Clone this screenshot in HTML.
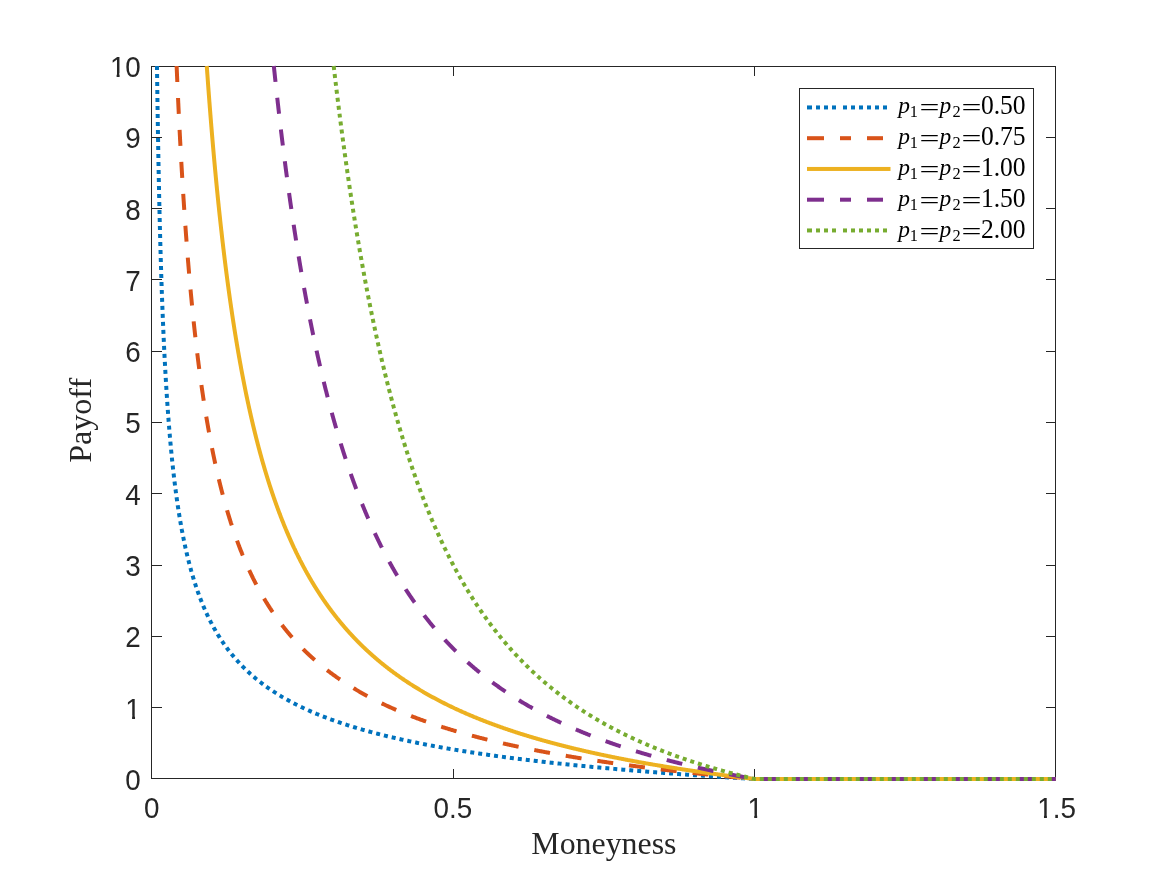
<!DOCTYPE html>
<html><head><meta charset="utf-8"><title>Payoff vs Moneyness</title>
<style>html,body{margin:0;padding:0;background:#fff;width:1167px;height:875px;overflow:hidden}svg{display:block}</style>
</head><body><svg width="1167" height="875" viewBox="0 0 1167 875"><defs><clipPath id="c0" clipPathUnits="userSpaceOnUse"><rect x="-100" y="-100" width="200" height="96.423"/><rect x="-8.720" y="-100" width="2.957" height="200"/><rect x="-0.357" y="-100" width="100" height="200"/><rect x="-100" y="-100" width="85.657" height="200"/></clipPath><clipPath id="c1" clipPathUnits="userSpaceOnUse"><rect x="-100" y="-100" width="200" height="96.423"/><rect x="-24.181" y="-100" width="2.957" height="200"/><rect x="-15.818" y="-100" width="100" height="200"/><rect x="-100" y="-100" width="70.196" height="200"/></clipPath><clipPath id="c2" clipPathUnits="userSpaceOnUse"><rect x="-100" y="-100" width="200" height="96.423"/><rect x="-0.990" y="-100" width="2.957" height="200"/><rect x="7.373" y="-100" width="100" height="200"/><rect x="-100" y="-100" width="93.387" height="200"/></clipPath><clipPath id="c3" clipPathUnits="userSpaceOnUse"><rect x="-100" y="-100" width="200" height="96.423"/><rect x="-12.582" y="-100" width="2.957" height="200"/><rect x="-4.219" y="-100" width="100" height="200"/><rect x="-100" y="-100" width="81.795" height="200"/></clipPath></defs><rect width="1167" height="875" fill="#fff"/><rect x="151" y="66" width="905" height="1" fill="#262626"/><rect x="151" y="778" width="905" height="1" fill="#262626"/><rect x="151" y="66" width="1" height="713" fill="#262626"/><rect x="1055" y="66" width="1" height="713" fill="#262626"/><rect x="453" y="769" width="1" height="9" fill="#262626"/><rect x="453" y="67" width="1" height="9" fill="#262626"/><rect x="754" y="769" width="1" height="9" fill="#262626"/><rect x="754" y="67" width="1" height="9" fill="#262626"/><rect x="152" y="707" width="10" height="1" fill="#262626"/><rect x="1046" y="707" width="9" height="1" fill="#262626"/><rect x="152" y="636" width="10" height="1" fill="#262626"/><rect x="1046" y="636" width="9" height="1" fill="#262626"/><rect x="152" y="565" width="10" height="1" fill="#262626"/><rect x="1046" y="565" width="9" height="1" fill="#262626"/><rect x="152" y="493" width="10" height="1" fill="#262626"/><rect x="1046" y="493" width="9" height="1" fill="#262626"/><rect x="152" y="422" width="10" height="1" fill="#262626"/><rect x="1046" y="422" width="9" height="1" fill="#262626"/><rect x="152" y="351" width="10" height="1" fill="#262626"/><rect x="1046" y="351" width="9" height="1" fill="#262626"/><rect x="152" y="279" width="10" height="1" fill="#262626"/><rect x="1046" y="279" width="9" height="1" fill="#262626"/><rect x="152" y="208" width="10" height="1" fill="#262626"/><rect x="1046" y="208" width="9" height="1" fill="#262626"/><rect x="152" y="137" width="10" height="1" fill="#262626"/><rect x="1046" y="137" width="9" height="1" fill="#262626"/><path d="M156.98,66.00 L157.00,67.25 L157.01,68.51 L157.03,69.75 L157.04,71.00 L157.06,72.25 L157.08,73.49 L157.09,74.73 L157.11,75.97 L157.13,77.21 L157.14,78.45 L157.16,79.68 L157.18,80.91 L157.19,82.14 L157.21,83.37 L157.22,84.60 L157.24,85.82 L157.26,87.04 L157.28,88.26 L157.29,89.48 L157.31,90.70 L157.33,91.91 L157.34,93.12 L157.36,94.33 L157.38,95.54 L157.39,96.75 L157.41,97.95 L157.43,99.15 L157.45,100.35 L157.46,101.55 L157.48,102.75 L157.50,103.94 L157.52,105.14 L157.53,106.33 L157.55,107.52 L157.57,108.70 L157.59,109.89 L157.61,111.07 L157.62,112.26 L157.64,113.43 L157.66,114.61 L157.68,115.79 L157.70,116.96 L157.71,118.13 L157.73,119.31 L157.75,120.47 L157.77,121.64 L157.79,122.80 L157.81,123.97 L157.83,125.13 L157.84,126.29 L157.86,127.44 L157.88,128.60 L157.90,129.75 L157.92,130.91 L157.94,132.06 L157.96,133.20 L157.98,134.35 L158.00,135.49 L158.01,136.64 L158.03,137.78 L158.05,138.92 L158.07,140.05 L158.09,141.19 L158.11,142.32 L158.13,143.45 L158.15,144.58 L158.17,145.71 L158.19,146.84 L158.21,147.96 L158.23,149.08 L158.25,150.21 L158.27,151.32 L158.29,152.44 L158.31,153.56 L158.33,154.67 L158.35,155.78 L158.37,156.89 L158.39,158.00 L158.41,159.11 L158.43,160.21 L158.45,161.32 L158.47,162.42 L158.49,163.52 L158.52,164.61 L158.54,165.71 L158.56,166.80 L158.58,167.90 L158.60,168.99 L158.62,170.08 L158.64,171.16 L158.66,172.25 L158.68,173.33 L158.71,174.42 L158.73,175.50 L158.75,176.57 L158.77,177.65 L158.79,178.73 L158.81,179.80 L158.84,180.87 L158.86,181.94 L158.88,183.01 L158.90,184.08 L158.92,185.14 L158.95,186.20 L158.97,187.27 L158.99,188.33 L159.01,189.38 L159.04,190.44 L159.06,191.49 L159.08,192.55 L159.10,193.60 L159.13,194.65 L159.15,195.70 L159.17,196.74 L159.19,197.79 L159.22,198.83 L159.24,199.87 L159.26,200.91 L159.29,201.95 L159.31,202.99 L159.33,204.02 L159.36,205.05 L159.38,206.08 L159.41,207.11 L159.43,208.14 L159.45,209.17 L159.48,210.19 L159.50,211.22 L159.52,212.24 L159.55,213.26 L159.57,214.28 L159.60,215.29 L159.62,216.31 L159.65,217.32 L159.67,218.33 L159.70,219.34 L159.72,220.35 L159.74,221.36 L159.77,222.36 L159.79,223.37 L159.82,224.37 L159.84,225.37 L159.87,226.37 L159.89,227.37 L159.92,228.36 L159.95,229.36 L159.97,230.35 L160.00,231.34 L160.02,232.33 L160.05,233.32 L160.07,234.30 L160.10,235.29 L160.13,236.27 L160.15,237.25 L160.18,238.23 L160.20,239.21 L160.23,240.19 L160.26,241.16 L160.28,242.14 L160.31,243.11 L160.34,244.08 L160.36,245.05 L160.39,246.01 L160.42,246.98 L160.44,247.94 L160.47,248.91 L160.50,249.87 L160.52,250.83 L160.55,251.79 L160.58,252.74 L160.61,253.70 L160.63,254.65 L160.66,255.60 L160.69,256.55 L160.72,257.50 L160.75,258.45 L160.77,259.40 L160.80,260.34 L160.83,261.28 L160.86,262.23 L160.89,263.17 L160.92,264.10 L160.94,265.04 L160.97,265.98 L161.00,266.91 L161.03,267.84 L161.06,268.77 L161.09,269.70 L161.12,270.63 L161.15,271.56 L161.18,272.48 L161.20,273.41 L161.23,274.33 L161.26,275.25 L161.29,276.17 L161.32,277.09 L161.35,278.00 L161.38,278.92 L161.41,279.83 L161.44,280.74 L161.47,281.65 L161.50,282.56 L161.53,283.47 L161.57,284.38 L161.60,285.28 L161.63,286.18 L161.66,287.09 L161.69,287.99 L161.72,288.88 L161.75,289.78 L161.78,290.68 L161.81,291.57 L161.84,292.46 L161.88,293.36 L161.91,294.25 L161.94,295.14 L161.97,296.02 L162.00,296.91 L162.04,297.79 L162.07,298.68 L162.10,299.56 L162.13,300.44 L162.16,301.32 L162.20,302.19 L162.23,303.07 L162.26,303.95 L162.30,304.82 L162.33,305.69 L162.36,306.56 L162.39,307.43 L162.43,308.30 L162.46,309.16 L162.50,310.03 L162.53,310.89 L162.56,311.76 L162.60,312.62 L162.63,313.48 L162.66,314.33 L162.70,315.19 L162.73,316.05 L162.77,316.90 L162.80,317.75 L162.84,318.60 L162.87,319.45 L162.91,320.30 L162.94,321.15 L162.98,321.99 L163.01,322.84 L163.05,323.68 L163.08,324.52 L163.12,325.36 L163.15,326.20 L163.19,327.04 L163.22,327.88 L163.26,328.71 L163.30,329.55 L163.33,330.38 L163.37,331.21 L163.41,332.04 L163.44,332.87 L163.48,333.69 L163.52,334.52 L163.55,335.34 L163.59,336.17 L163.63,336.99 L163.66,337.81 L163.70,338.63 L163.74,339.45 L163.78,340.26 L163.81,341.08 L163.85,341.89 L163.89,342.71 L163.93,343.52 L163.97,344.33 L164.00,345.14 L164.04,345.94 L164.08,346.75 L164.12,347.55 L164.16,348.36 L164.20,349.16 L164.24,349.96 L164.28,350.76 L164.32,351.56 L164.36,352.36 L164.39,353.15 L164.43,353.95 L164.47,354.74 L164.51,355.53 L164.55,356.32 L164.59,357.11 L164.63,357.90 L164.68,358.69 L164.72,359.47 L164.76,360.26 L164.80,361.04 L164.84,361.82 L164.88,362.60 L164.92,363.38 L164.96,364.16 L165.00,364.94 L165.05,365.71 L165.09,366.49 L165.13,367.26 L165.17,368.03 L165.21,368.81 L165.26,369.58 L165.30,370.34 L165.34,371.11 L165.38,371.88 L165.43,372.64 L165.47,373.41 L165.51,374.17 L165.56,374.93 L165.60,375.69 L165.64,376.45 L165.69,377.20 L165.73,377.96 L165.77,378.72 L165.82,379.47 L165.86,380.22 L165.91,380.97 L165.95,381.72 L166.00,382.47 L166.04,383.22 L166.09,383.97 L166.13,384.71 L166.18,385.46 L166.22,386.20 L166.27,386.94 L166.31,387.68 L166.36,388.42 L166.41,389.16 L166.45,389.90 L166.50,390.63 L166.54,391.37 L166.59,392.10 L166.64,392.83 L166.69,393.56 L166.73,394.29 L166.78,395.02 L166.83,395.75 L166.87,396.48 L166.92,397.20 L166.97,397.93 L167.02,398.65 L167.07,399.37 L167.11,400.09 L167.16,400.81 L167.21,401.53 L167.26,402.25 L167.31,402.96 L167.36,403.68 L167.41,404.39 L167.46,405.11 L167.51,405.82 L167.56,406.53 L167.61,407.24 L167.66,407.95 L167.71,408.65 L167.76,409.36 L167.81,410.06 L167.86,410.77 L167.91,411.47 L167.96,412.17 L168.01,412.87 L168.06,413.57 L168.11,414.27 L168.16,414.97 L168.22,415.66 L168.27,416.36 L168.32,417.05 L168.37,417.74 L168.43,418.43 L168.48,419.12 L168.53,419.81 L168.58,420.50 L168.64,421.19 L168.69,421.87 L168.74,422.56 L168.80,423.24 L168.85,423.92 L168.90,424.61 L168.96,425.29 L169.01,425.97 L169.07,426.64 L169.12,427.32 L169.18,428.00 L169.23,428.67 L169.29,429.35 L169.34,430.02 L169.40,430.69 L169.45,431.36 L169.51,432.03 L169.57,432.70 L169.62,433.37 L169.68,434.03 L169.74,434.70 L169.79,435.36 L169.85,436.03 L169.91,436.69 L169.96,437.35 L170.02,438.01 L170.08,438.67 L170.14,439.33 L170.20,439.98 L170.25,440.64 L170.31,441.29 L170.37,441.95 L170.43,442.60 L170.49,443.25 L170.55,443.90 L170.61,444.55 L170.67,445.20 L170.73,445.85 L170.79,446.50 L170.85,447.14 L170.91,447.79 L170.97,448.43 L171.03,449.07 L171.09,449.71 L171.15,450.35 L171.21,450.99 L171.27,451.63 L171.34,452.27 L171.40,452.90 L171.46,453.54 L171.52,454.17 L171.59,454.81 L171.65,455.44 L171.71,456.07 L171.77,456.70 L171.84,457.33 L171.90,457.96 L171.96,458.58 L172.03,459.21 L172.09,459.83 L172.16,460.46 L172.22,461.08 L172.29,461.70 L172.35,462.33 L172.42,462.95 L172.48,463.56 L172.55,464.18 L172.61,464.80 L172.68,465.42 L172.75,466.03 L172.81,466.65 L172.88,467.26 L172.95,467.87 L173.01,468.48 L173.08,469.09 L173.15,469.70 L173.22,470.31 L173.28,470.92 L173.35,471.52 L173.42,472.13 L173.49,472.73 L173.56,473.34 L173.63,473.94 L173.70,474.54 L173.77,475.14 L173.84,475.74 L173.91,476.34 L173.98,476.94 L174.05,477.54 L174.12,478.13 L174.19,478.73 L174.26,479.32 L174.33,479.91 L174.40,480.50 L174.47,481.10 L174.55,481.69 L174.62,482.28 L174.69,482.86 L174.76,483.45 L174.84,484.04 L174.91,484.62 L174.98,485.21 L175.06,485.79 L175.13,486.37 L175.20,486.95 L175.28,487.54 L175.35,488.12 L175.43,488.69 L175.50,489.27 L175.58,489.85 L175.65,490.43 L175.73,491.00 L175.81,491.57 L175.88,492.15 L175.96,492.72 L176.04,493.29 L176.11,493.86 L176.19,494.43 L176.27,495.00 L176.35,495.57 L176.42,496.14 L176.50,496.70 L176.58,497.27 L176.66,497.83 L176.74,498.40 L176.82,498.96 L176.90,499.52 L176.98,500.08 L177.06,500.64 L177.14,501.20 L177.22,501.76 L177.30,502.31 L177.38,502.87 L177.46,503.43 L177.54,503.98 L177.62,504.53 L177.71,505.09 L177.79,505.64 L177.87,506.19 L177.95,506.74 L178.04,507.29 L178.12,507.84 L178.20,508.38 L178.29,508.93 L178.37,509.48 L178.46,510.02 L178.54,510.56 L178.63,511.11 L178.71,511.65 L178.80,512.19 L178.88,512.73 L178.97,513.27 L179.06,513.81 L179.14,514.35 L179.23,514.88 L179.32,515.42 L179.40,515.96 L179.49,516.49 L179.58,517.02 L179.67,517.56 L179.76,518.09 L179.85,518.62 L179.94,519.15 L180.03,519.68 L180.11,520.21 L180.20,520.73 L180.30,521.26 L180.39,521.79 L180.48,522.31 L180.57,522.84 L180.66,523.36 L180.75,523.88 L180.84,524.40 L180.94,524.93 L181.03,525.45 L181.12,525.96 L181.22,526.48 L181.31,527.00 L181.40,527.52 L181.50,528.03 L181.59,528.55 L181.69,529.06 L181.78,529.58 L181.88,530.09 L181.97,530.60 L182.07,531.11 L182.17,531.62 L182.26,532.13 L182.36,532.64 L182.46,533.15 L182.55,533.65 L182.65,534.16 L182.75,534.67 L182.85,535.17 L182.95,535.67 L183.05,536.18 L183.15,536.68 L183.25,537.18 L183.35,537.68 L183.45,538.18 L183.55,538.68 L183.65,539.18 L183.75,539.67 L183.85,540.17 L183.95,540.67 L184.06,541.16 L184.16,541.66 L184.26,542.15 L184.36,542.64 L184.47,543.13 L184.57,543.62 L184.68,544.11 L184.78,544.60 L184.89,545.09 L184.99,545.58 L185.10,546.07 L185.20,546.55 L185.31,547.04 L185.42,547.52 L185.52,548.01 L185.63,548.49 L185.74,548.97 L185.85,549.46 L185.96,549.94 L186.06,550.42 L186.17,550.90 L186.28,551.37 L186.39,551.85 L186.50,552.33 L186.61,552.81 L186.72,553.28 L186.84,553.76 L186.95,554.23 L187.06,554.70 L187.17,555.18 L187.28,555.65 L187.40,556.12 L187.51,556.59 L187.63,557.06 L187.74,557.53 L187.85,557.99 L187.97,558.46 L188.08,558.93 L188.20,559.39 L188.32,559.86 L188.43,560.32 L188.55,560.79 L188.67,561.25 L188.78,561.71 L188.90,562.17 L189.02,562.63 L189.14,563.09 L189.26,563.55 L189.38,564.01 L189.50,564.47 L189.62,564.92 L189.74,565.38 L189.86,565.84 L189.98,566.29 L190.10,566.75 L190.22,567.20 L190.35,567.65 L190.47,568.10 L190.59,568.55 L190.72,569.00 L190.84,569.45 L190.96,569.90 L191.09,570.35 L191.21,570.80 L191.34,571.24 L191.47,571.69 L191.59,572.14 L191.72,572.58 L191.85,573.02 L191.97,573.47 L192.10,573.91 L192.23,574.35 L192.36,574.79 L192.49,575.23 L192.62,575.67 L192.75,576.11 L192.88,576.55 L193.01,576.99 L193.14,577.42 L193.27,577.86 L193.41,578.30 L193.54,578.73 L193.67,579.17 L193.80,579.60 L193.94,580.03 L194.07,580.46 L194.21,580.89 L194.34,581.33 L194.48,581.76 L194.62,582.18 L194.75,582.61 L194.89,583.04 L195.03,583.47 L195.16,583.89 L195.30,584.32 L195.44,584.75 L195.58,585.17 L195.72,585.59 L195.86,586.02 L196.00,586.44 L196.14,586.86 L196.28,587.28 L196.43,587.70 L196.57,588.12 L196.71,588.54 L196.85,588.96 L197.00,589.38 L197.14,589.79 L197.29,590.21 L197.43,590.63 L197.58,591.04 L197.72,591.46 L197.87,591.87 L198.02,592.28 L198.16,592.70 L198.31,593.11 L198.46,593.52 L198.61,593.93 L198.76,594.34 L198.91,594.75 L199.06,595.16 L199.21,595.56 L199.36,595.97 L199.51,596.38 L199.66,596.78 L199.82,597.19 L199.97,597.59 L200.12,598.00 L200.28,598.40 L200.43,598.80 L200.59,599.21 L200.74,599.61 L200.90,600.01 L201.06,600.41 L201.21,600.81 L201.37,601.21 L201.53,601.60 L201.69,602.00 L201.85,602.40 L202.01,602.79 L202.17,603.19 L202.33,603.58 L202.49,603.98 L202.65,604.37 L202.81,604.77 L202.98,605.16 L203.14,605.55 L203.30,605.94 L203.47,606.33 L203.63,606.72 L203.80,607.11 L203.96,607.50 L204.13,607.89 L204.30,608.28 L204.47,608.66 L204.63,609.05 L204.80,609.43 L204.97,609.82 L205.14,610.20 L205.31,610.59 L205.48,610.97 L205.65,611.35 L205.83,611.73 L206.00,612.12 L206.17,612.50 L206.35,612.88 L206.52,613.26 L206.69,613.64 L206.87,614.01 L207.05,614.39 L207.22,614.77 L207.40,615.14 L207.58,615.52 L207.75,615.90 L207.93,616.27 L208.11,616.64 L208.29,617.02 L208.47,617.39 L208.65,617.76 L208.83,618.14 L209.02,618.51 L209.20,618.88 L209.38,619.25 L209.57,619.62 L209.75,619.98 L209.94,620.35 L210.12,620.72 L210.31,621.09 L210.50,621.45 L210.68,621.82 L210.87,622.18 L211.06,622.55 L211.25,622.91 L211.44,623.28 L211.63,623.64 L211.82,624.00 L212.01,624.36 L212.20,624.72 L212.40,625.09 L212.59,625.45 L212.78,625.80 L212.98,626.16 L213.17,626.52 L213.37,626.88 L213.57,627.24 L213.76,627.59 L213.96,627.95 L214.16,628.30 L214.36,628.66 L214.56,629.01 L214.76,629.37 L214.96,629.72 L215.16,630.07 L215.37,630.42 L215.57,630.78 L215.77,631.13 L215.98,631.48 L216.18,631.83 L216.39,632.18 L216.59,632.53 L216.80,632.87 L217.01,633.22 L217.22,633.57 L217.43,633.91 L217.64,634.26 L217.85,634.61 L218.06,634.95 L218.27,635.29 L218.48,635.64 L218.69,635.98 L218.91,636.32 L219.12,636.67 L219.34,637.01 L219.55,637.35 L219.77,637.69 L219.99,638.03 L220.20,638.37 L220.42,638.71 L220.64,639.04 L220.86,639.38 L221.08,639.72 L221.30,640.06 L221.53,640.39 L221.75,640.73 L221.97,641.06 L222.20,641.40 L222.42,641.73 L222.65,642.06 L222.87,642.40 L223.10,642.73 L223.33,643.06 L223.56,643.39 L223.79,643.72 L224.02,644.05 L224.25,644.38 L224.48,644.71 L224.71,645.04 L224.94,645.37 L225.18,645.70 L225.41,646.02 L225.65,646.35 L225.88,646.68 L226.12,647.00 L226.36,647.33 L226.60,647.65 L226.84,647.97 L227.08,648.30 L227.32,648.62 L227.56,648.94 L227.80,649.27 L228.04,649.59 L228.29,649.91 L228.53,650.23 L228.78,650.55 L229.02,650.87 L229.27,651.19 L229.52,651.50 L229.76,651.82 L230.01,652.14 L230.26,652.46 L230.51,652.77 L230.77,653.09 L231.02,653.40 L231.27,653.72 L231.53,654.03 L231.78,654.35 L232.04,654.66 L232.29,654.97 L232.55,655.28 L232.81,655.60 L233.07,655.91 L233.33,656.22 L233.59,656.53 L233.85,656.84 L234.11,657.15 L234.37,657.45 L234.64,657.76 L234.90,658.07 L235.17,658.38 L235.44,658.68 L235.70,658.99 L235.97,659.30 L236.24,659.60 L236.51,659.91 L236.78,660.21 L237.05,660.52 L237.32,660.82 L237.60,661.12 L237.87,661.42 L238.15,661.73 L238.42,662.03 L238.70,662.33 L238.98,662.63 L239.26,662.93 L239.54,663.23 L239.82,663.53 L240.10,663.83 L240.38,664.12 L240.66,664.42 L240.95,664.72 L241.23,665.01 L241.52,665.31 L241.81,665.61 L242.09,665.90 L242.38,666.20 L242.67,666.49 L242.96,666.78 L243.25,667.08 L243.55,667.37 L243.84,667.66 L244.13,667.96 L244.43,668.25 L244.73,668.54 L245.02,668.83 L245.32,669.12 L245.62,669.41 L245.92,669.70 L246.22,669.99 L246.52,670.27 L246.83,670.56 L247.13,670.85 L247.43,671.14 L247.74,671.42 L248.05,671.71 L248.36,671.99 L248.66,672.28 L248.97,672.56 L249.28,672.85 L249.60,673.13 L249.91,673.41 L250.22,673.70 L250.54,673.98 L250.85,674.26 L251.17,674.54 L251.49,674.82 L251.81,675.10 L252.13,675.38 L252.45,675.66 L252.77,675.94 L253.09,676.22 L253.42,676.50 L253.74,676.78 L254.07,677.05 L254.39,677.33 L254.72,677.61 L255.05,677.88 L255.38,678.16 L255.71,678.43 L256.04,678.71 L256.38,678.98 L256.71,679.26 L257.05,679.53 L257.39,679.80 L257.72,680.08 L258.06,680.35 L258.40,680.62 L258.74,680.89 L259.08,681.16 L259.43,681.43 L259.77,681.70 L260.12,681.97 L260.46,682.24 L260.81,682.51 L261.16,682.78 L261.51,683.05 L261.86,683.31 L262.21,683.58 L262.57,683.85 L262.92,684.11 L263.28,684.38 L263.63,684.64 L263.99,684.91 L264.35,685.17 L264.71,685.44 L265.07,685.70 L265.43,685.96 L265.80,686.23 L266.16,686.49 L266.53,686.75 L266.89,687.01 L267.26,687.27 L267.63,687.53 L268.00,687.79 L268.37,688.05 L268.75,688.31 L269.12,688.57 L269.50,688.83 L269.87,689.09 L270.25,689.34 L270.63,689.60 L271.01,689.86 L271.39,690.12 L271.77,690.37 L272.16,690.63 L272.54,690.88 L272.93,691.14 L273.32,691.39 L273.70,691.65 L274.09,691.90 L274.49,692.15 L274.88,692.41 L275.27,692.66 L275.67,692.91 L276.06,693.16 L276.46,693.41 L276.86,693.66 L277.26,693.91 L277.66,694.16 L278.06,694.41 L278.47,694.66 L278.87,694.91 L279.28,695.16 L279.69,695.41 L280.10,695.65 L280.51,695.90 L280.92,696.15 L281.33,696.40 L281.75,696.64 L282.16,696.89 L282.58,697.13 L283.00,697.38 L283.42,697.62 L283.84,697.87 L284.26,698.11 L284.68,698.35 L285.11,698.60 L285.54,698.84 L285.96,699.08 L286.39,699.32 L286.82,699.56 L287.26,699.80 L287.69,700.04 L288.12,700.28 L288.56,700.52 L289.00,700.76 L289.44,701.00 L289.88,701.24 L290.32,701.48 L290.76,701.72 L291.21,701.95 L291.65,702.19 L292.10,702.43 L292.55,702.66 L293.00,702.90 L293.45,703.14 L293.91,703.37 L294.36,703.61 L294.82,703.84 L295.27,704.08 L295.73,704.31 L296.19,704.54 L296.66,704.78 L297.12,705.01 L297.58,705.24 L298.05,705.47 L298.52,705.70 L298.99,705.93 L299.46,706.17 L299.93,706.40 L300.41,706.63 L300.88,706.86 L301.36,707.08 L301.84,707.31 L302.32,707.54 L302.80,707.77 L303.28,708.00 L303.77,708.23 L304.25,708.45 L304.74,708.68 L305.23,708.91 L305.72,709.13 L306.21,709.36 L306.71,709.58 L307.20,709.81 L307.70,710.03 L308.20,710.26 L308.70,710.48 L309.20,710.70 L309.71,710.93 L310.21,711.15 L310.72,711.37 L311.23,711.59 L311.74,711.82 L312.25,712.04 L312.76,712.26 L313.28,712.48 L313.80,712.70 L314.31,712.92 L314.83,713.14 L315.36,713.36 L315.88,713.58 L316.40,713.80 L316.93,714.01 L317.46,714.23 L317.99,714.45 L318.52,714.67 L319.06,714.88 L319.59,715.10 L320.13,715.32 L320.67,715.53 L321.21,715.75 L321.75,715.96 L322.29,716.18 L322.84,716.39 L323.39,716.60 L323.94,716.82 L324.49,717.03 L325.04,717.24 L325.59,717.46 L326.15,717.67 L326.71,717.88 L327.27,718.09 L327.83,718.30 L328.39,718.52 L328.96,718.73 L329.52,718.94 L330.09,719.15 L330.66,719.36 L331.24,719.57 L331.81,719.77 L332.39,719.98 L332.97,720.19 L333.55,720.40 L334.13,720.61 L334.71,720.81 L335.30,721.02 L335.88,721.23 L336.47,721.43 L337.06,721.64 L337.66,721.85 L338.25,722.05 L338.85,722.26 L339.45,722.46 L340.05,722.67 L340.65,722.87 L341.26,723.07 L341.86,723.28 L342.47,723.48 L343.08,723.68 L343.69,723.88 L344.31,724.09 L344.92,724.29 L345.54,724.49 L346.16,724.69 L346.78,724.89 L347.41,725.09 L348.03,725.29 L348.66,725.49 L349.29,725.69 L349.92,725.89 L350.56,726.09 L351.20,726.29 L351.83,726.49 L352.47,726.68 L353.12,726.88 L353.76,727.08 L354.41,727.28 L355.06,727.47 L355.71,727.67 L356.36,727.86 L357.01,728.06 L357.67,728.26 L358.33,728.45 L358.99,728.65 L359.65,728.84 L360.32,729.03 L360.99,729.23 L361.66,729.42 L362.33,729.61 L363.00,729.81 L363.68,730.00 L364.36,730.19 L365.04,730.38 L365.72,730.58 L366.41,730.77 L367.09,730.96 L367.78,731.15 L368.47,731.34 L369.17,731.53 L369.86,731.72 L370.56,731.91 L371.26,732.10 L371.96,732.29 L372.67,732.48 L373.38,732.66 L374.09,732.85 L374.80,733.04 L375.51,733.23 L376.23,733.41 L376.95,733.60 L377.67,733.79 L378.39,733.97 L379.12,734.16 L379.84,734.35 L380.57,734.53 L381.31,734.72 L382.04,734.90 L382.78,735.09 L383.52,735.27 L384.26,735.45 L385.00,735.64 L385.75,735.82 L386.50,736.00 L387.25,736.19 L388.00,736.37 L388.76,736.55 L389.52,736.73 L390.28,736.91 L391.04,737.10 L391.81,737.28 L392.58,737.46 L393.35,737.64 L394.12,737.82 L394.90,738.00 L395.68,738.18 L396.46,738.36 L397.24,738.53 L398.03,738.71 L398.82,738.89 L399.61,739.07 L400.40,739.25 L401.20,739.43 L401.99,739.60 L402.80,739.78 L403.60,739.96 L404.41,740.13 L405.21,740.31 L406.03,740.48 L406.84,740.66 L407.66,740.83 L408.48,741.01 L409.30,741.18 L410.12,741.36 L410.95,741.53 L411.78,741.71 L412.61,741.88 L413.45,742.05 L414.28,742.23 L415.12,742.40 L415.97,742.57 L416.81,742.74 L417.66,742.92 L418.51,743.09 L419.37,743.26 L420.22,743.43 L421.08,743.60 L421.95,743.77 L422.81,743.94 L423.68,744.11 L424.55,744.28 L425.42,744.45 L426.30,744.62 L427.18,744.79 L428.06,744.96 L428.94,745.13 L429.83,745.29 L430.72,745.46 L431.62,745.63 L432.51,745.80 L433.41,745.96 L434.31,746.13 L435.22,746.30 L436.12,746.46 L437.03,746.63 L437.95,746.80 L438.86,746.96 L439.78,747.13 L440.71,747.29 L441.63,747.46 L442.56,747.62 L443.49,747.78 L444.42,747.95 L445.36,748.11 L446.30,748.27 L447.24,748.44 L448.19,748.60 L449.14,748.76 L450.09,748.93 L451.05,749.09 L452.01,749.25 L452.97,749.41 L453.93,749.57 L454.90,749.73 L455.87,749.89 L456.84,750.05 L457.82,750.21 L458.80,750.37 L459.78,750.53 L460.77,750.69 L461.76,750.85 L462.75,751.01 L463.75,751.17 L464.75,751.33 L465.75,751.49 L466.75,751.65 L467.76,751.80 L468.77,751.96 L469.79,752.12 L470.81,752.27 L471.83,752.43 L472.85,752.59 L473.88,752.74 L474.91,752.90 L475.95,753.06 L476.99,753.21 L478.03,753.37 L479.07,753.52 L480.12,753.68 L481.17,753.83 L482.23,753.98 L483.29,754.14 L484.35,754.29 L485.41,754.45 L486.48,754.60 L487.55,754.75 L488.63,754.90 L489.71,755.06 L490.79,755.21 L491.87,755.36 L492.96,755.51 L494.06,755.66 L495.15,755.82 L496.25,755.97 L497.35,756.12 L498.46,756.27 L499.57,756.42 L500.68,756.57 L501.80,756.72 L502.92,756.87 L504.05,757.02 L505.18,757.17 L506.31,757.31 L507.44,757.46 L508.58,757.61 L509.72,757.76 L510.87,757.91 L512.02,758.06 L513.17,758.20 L514.33,758.35 L515.49,758.50 L516.66,758.64 L517.83,758.79 L519.00,758.94 L520.17,759.08 L521.35,759.23 L522.54,759.37 L523.73,759.52 L524.92,759.66 L526.11,759.81 L527.31,759.95 L528.51,760.10 L529.72,760.24 L530.93,760.39 L532.14,760.53 L533.36,760.67 L534.58,760.82 L535.81,760.96 L537.04,761.10 L538.27,761.25 L539.51,761.39 L540.75,761.53 L542.00,761.67 L543.25,761.81 L544.50,761.95 L545.76,762.10 L547.02,762.24 L548.29,762.38 L549.56,762.52 L550.83,762.66 L552.11,762.80 L553.39,762.94 L554.68,763.08 L555.97,763.22 L557.26,763.36 L558.56,763.50 L559.86,763.63 L561.17,763.77 L562.48,763.91 L563.80,764.05 L565.12,764.19 L566.44,764.32 L567.77,764.46 L569.10,764.60 L570.44,764.74 L571.78,764.87 L573.12,765.01 L574.47,765.15 L575.83,765.28 L577.19,765.42 L578.55,765.55 L579.92,765.69 L581.29,765.82 L582.66,765.96 L584.04,766.09 L585.43,766.23 L586.82,766.36 L588.21,766.50 L589.61,766.63 L591.01,766.77 L592.42,766.90 L593.83,767.03 L595.24,767.17 L596.66,767.30 L598.09,767.43 L599.52,767.56 L600.95,767.70 L602.39,767.83 L603.83,767.96 L605.28,768.09 L606.73,768.22 L608.19,768.35 L609.65,768.48 L611.12,768.62 L612.59,768.75 L614.07,768.88 L615.55,769.01 L617.03,769.14 L618.52,769.27 L620.02,769.40 L621.52,769.52 L623.02,769.65 L624.53,769.78 L626.05,769.91 L627.56,770.04 L629.09,770.17 L630.62,770.30 L632.15,770.42 L633.69,770.55 L635.23,770.68 L636.78,770.81 L638.34,770.93 L639.89,771.06 L641.46,771.19 L643.03,771.31 L644.60,771.44 L646.18,771.57 L647.76,771.69 L649.35,771.82 L650.94,771.94 L652.54,772.07 L654.15,772.19 L655.76,772.32 L657.37,772.44 L658.99,772.57 L660.61,772.69 L662.24,772.82 L663.88,772.94 L665.52,773.06 L667.16,773.19 L668.82,773.31 L670.47,773.43 L672.13,773.56 L673.80,773.68 L675.47,773.80 L677.15,773.92 L678.83,774.05 L680.52,774.17 L682.21,774.29 L683.91,774.41 L685.62,774.53 L687.33,774.65 L689.04,774.77 L690.76,774.89 L692.49,775.01 L694.22,775.14 L695.96,775.26 L697.70,775.38 L699.45,775.49 L701.21,775.61 L702.97,775.73 L704.73,775.85 L706.50,775.97 L708.28,776.09 L710.06,776.21 L711.85,776.33 L713.64,776.45 L715.44,776.56 L717.25,776.68 L719.06,776.80 L720.88,776.92 L722.70,777.03 L724.53,777.15 L726.36,777.27 L728.20,777.39 L730.05,777.50 L731.90,777.62 L733.76,777.73 L735.63,777.85 L737.50,777.97 L739.37,778.08 L741.25,778.20 L743.14,778.31 L745.04,778.43 L746.94,778.54 L748.84,778.66 L750.76,778.77 L752.68,778.89 L754.60,779.00 L1055.90,779.00" fill="none" stroke="#0072BD" stroke-width="4.0" stroke-dasharray="4 4" stroke-linejoin="round"/><path d="M176.63,66.00 L176.68,67.25 L176.74,68.51 L176.79,69.75 L176.84,71.00 L176.90,72.25 L176.95,73.49 L177.00,74.73 L177.06,75.97 L177.11,77.21 L177.16,78.45 L177.22,79.68 L177.27,80.91 L177.32,82.14 L177.38,83.37 L177.43,84.60 L177.49,85.82 L177.54,87.04 L177.60,88.26 L177.65,89.48 L177.71,90.70 L177.76,91.91 L177.82,93.12 L177.87,94.33 L177.93,95.54 L177.98,96.75 L178.04,97.95 L178.09,99.15 L178.15,100.35 L178.20,101.55 L178.26,102.75 L178.32,103.94 L178.37,105.14 L178.43,106.33 L178.48,107.52 L178.54,108.70 L178.60,109.89 L178.65,111.07 L178.71,112.26 L178.77,113.43 L178.83,114.61 L178.88,115.79 L178.94,116.96 L179.00,118.13 L179.06,119.31 L179.11,120.47 L179.17,121.64 L179.23,122.80 L179.29,123.97 L179.35,125.13 L179.40,126.29 L179.46,127.44 L179.52,128.60 L179.58,129.75 L179.64,130.91 L179.70,132.06 L179.76,133.20 L179.82,134.35 L179.88,135.49 L179.94,136.64 L180.00,137.78 L180.05,138.92 L180.11,140.05 L180.17,141.19 L180.24,142.32 L180.30,143.45 L180.36,144.58 L180.42,145.71 L180.48,146.84 L180.54,147.96 L180.60,149.08 L180.66,150.21 L180.72,151.32 L180.78,152.44 L180.84,153.56 L180.91,154.67 L180.97,155.78 L181.03,156.89 L181.09,158.00 L181.15,159.11 L181.22,160.21 L181.28,161.32 L181.34,162.42 L181.40,163.52 L181.47,164.61 L181.53,165.71 L181.59,166.80 L181.65,167.90 L181.72,168.99 L181.78,170.08 L181.85,171.16 L181.91,172.25 L181.97,173.33 L182.04,174.42 L182.10,175.50 L182.17,176.57 L182.23,177.65 L182.29,178.73 L182.36,179.80 L182.42,180.87 L182.49,181.94 L182.55,183.01 L182.62,184.08 L182.68,185.14 L182.75,186.20 L182.82,187.27 L182.88,188.33 L182.95,189.38 L183.01,190.44 L183.08,191.49 L183.15,192.55 L183.21,193.60 L183.28,194.65 L183.35,195.70 L183.41,196.74 L183.48,197.79 L183.55,198.83 L183.61,199.87 L183.68,200.91 L183.75,201.95 L183.82,202.99 L183.89,204.02 L183.95,205.05 L184.02,206.08 L184.09,207.11 L184.16,208.14 L184.23,209.17 L184.30,210.19 L184.36,211.22 L184.43,212.24 L184.50,213.26 L184.57,214.28 L184.64,215.29 L184.71,216.31 L184.78,217.32 L184.85,218.33 L184.92,219.34 L184.99,220.35 L185.06,221.36 L185.13,222.36 L185.20,223.37 L185.27,224.37 L185.35,225.37 L185.42,226.37 L185.49,227.37 L185.56,228.36 L185.63,229.36 L185.70,230.35 L185.78,231.34 L185.85,232.33 L185.92,233.32 L185.99,234.30 L186.06,235.29 L186.14,236.27 L186.21,237.25 L186.28,238.23 L186.36,239.21 L186.43,240.19 L186.50,241.16 L186.58,242.14 L186.65,243.11 L186.72,244.08 L186.80,245.05 L186.87,246.01 L186.95,246.98 L187.02,247.94 L187.10,248.91 L187.17,249.87 L187.25,250.83 L187.32,251.79 L187.40,252.74 L187.47,253.70 L187.55,254.65 L187.63,255.60 L187.70,256.55 L187.78,257.50 L187.85,258.45 L187.93,259.40 L188.01,260.34 L188.08,261.28 L188.16,262.23 L188.24,263.17 L188.32,264.10 L188.39,265.04 L188.47,265.98 L188.55,266.91 L188.63,267.84 L188.70,268.77 L188.78,269.70 L188.86,270.63 L188.94,271.56 L189.02,272.48 L189.10,273.41 L189.18,274.33 L189.26,275.25 L189.34,276.17 L189.42,277.09 L189.50,278.00 L189.58,278.92 L189.66,279.83 L189.74,280.74 L189.82,281.65 L189.90,282.56 L189.98,283.47 L190.06,284.38 L190.14,285.28 L190.22,286.18 L190.30,287.09 L190.39,287.99 L190.47,288.88 L190.55,289.78 L190.63,290.68 L190.72,291.57 L190.80,292.46 L190.88,293.36 L190.96,294.25 L191.05,295.14 L191.13,296.02 L191.21,296.91 L191.30,297.79 L191.38,298.68 L191.47,299.56 L191.55,300.44 L191.63,301.32 L191.72,302.19 L191.80,303.07 L191.89,303.95 L191.97,304.82 L192.06,305.69 L192.14,306.56 L192.23,307.43 L192.32,308.30 L192.40,309.16 L192.49,310.03 L192.58,310.89 L192.66,311.76 L192.75,312.62 L192.84,313.48 L192.92,314.33 L193.01,315.19 L193.10,316.05 L193.19,316.90 L193.27,317.75 L193.36,318.60 L193.45,319.45 L193.54,320.30 L193.63,321.15 L193.72,321.99 L193.80,322.84 L193.89,323.68 L193.98,324.52 L194.07,325.36 L194.16,326.20 L194.25,327.04 L194.34,327.88 L194.43,328.71 L194.52,329.55 L194.62,330.38 L194.71,331.21 L194.80,332.04 L194.89,332.87 L194.98,333.69 L195.07,334.52 L195.16,335.34 L195.26,336.17 L195.35,336.99 L195.44,337.81 L195.53,338.63 L195.63,339.45 L195.72,340.26 L195.81,341.08 L195.91,341.89 L196.00,342.71 L196.09,343.52 L196.19,344.33 L196.28,345.14 L196.38,345.94 L196.47,346.75 L196.57,347.55 L196.66,348.36 L196.76,349.16 L196.85,349.96 L196.95,350.76 L197.05,351.56 L197.14,352.36 L197.24,353.15 L197.33,353.95 L197.43,354.74 L197.53,355.53 L197.63,356.32 L197.72,357.11 L197.82,357.90 L197.92,358.69 L198.02,359.47 L198.11,360.26 L198.21,361.04 L198.31,361.82 L198.41,362.60 L198.51,363.38 L198.61,364.16 L198.71,364.94 L198.81,365.71 L198.91,366.49 L199.01,367.26 L199.11,368.03 L199.21,368.81 L199.31,369.58 L199.41,370.34 L199.51,371.11 L199.61,371.88 L199.72,372.64 L199.82,373.41 L199.92,374.17 L200.02,374.93 L200.12,375.69 L200.23,376.45 L200.33,377.20 L200.43,377.96 L200.54,378.72 L200.64,379.47 L200.74,380.22 L200.85,380.97 L200.95,381.72 L201.06,382.47 L201.16,383.22 L201.27,383.97 L201.37,384.71 L201.48,385.46 L201.58,386.20 L201.69,386.94 L201.79,387.68 L201.90,388.42 L202.01,389.16 L202.11,389.90 L202.22,390.63 L202.33,391.37 L202.44,392.10 L202.54,392.83 L202.65,393.56 L202.76,394.29 L202.87,395.02 L202.98,395.75 L203.09,396.48 L203.19,397.20 L203.30,397.93 L203.41,398.65 L203.52,399.37 L203.63,400.09 L203.74,400.81 L203.85,401.53 L203.96,402.25 L204.08,402.96 L204.19,403.68 L204.30,404.39 L204.41,405.11 L204.52,405.82 L204.63,406.53 L204.75,407.24 L204.86,407.95 L204.97,408.65 L205.09,409.36 L205.20,410.06 L205.31,410.77 L205.43,411.47 L205.54,412.17 L205.65,412.87 L205.77,413.57 L205.88,414.27 L206.00,414.97 L206.11,415.66 L206.23,416.36 L206.35,417.05 L206.46,417.74 L206.58,418.43 L206.69,419.12 L206.81,419.81 L206.93,420.50 L207.05,421.19 L207.16,421.87 L207.28,422.56 L207.40,423.24 L207.52,423.92 L207.64,424.61 L207.75,425.29 L207.87,425.97 L207.99,426.64 L208.11,427.32 L208.23,428.00 L208.35,428.67 L208.47,429.35 L208.59,430.02 L208.71,430.69 L208.83,431.36 L208.96,432.03 L209.08,432.70 L209.20,433.37 L209.32,434.03 L209.44,434.70 L209.57,435.36 L209.69,436.03 L209.81,436.69 L209.94,437.35 L210.06,438.01 L210.18,438.67 L210.31,439.33 L210.43,439.98 L210.56,440.64 L210.68,441.29 L210.81,441.95 L210.93,442.60 L211.06,443.25 L211.19,443.90 L211.31,444.55 L211.44,445.20 L211.57,445.85 L211.69,446.50 L211.82,447.14 L211.95,447.79 L212.08,448.43 L212.20,449.07 L212.33,449.71 L212.46,450.35 L212.59,450.99 L212.72,451.63 L212.85,452.27 L212.98,452.90 L213.11,453.54 L213.24,454.17 L213.37,454.81 L213.50,455.44 L213.63,456.07 L213.76,456.70 L213.90,457.33 L214.03,457.96 L214.16,458.58 L214.29,459.21 L214.43,459.83 L214.56,460.46 L214.69,461.08 L214.83,461.70 L214.96,462.33 L215.10,462.95 L215.23,463.56 L215.37,464.18 L215.50,464.80 L215.64,465.42 L215.77,466.03 L215.91,466.65 L216.05,467.26 L216.18,467.87 L216.32,468.48 L216.46,469.09 L216.59,469.70 L216.73,470.31 L216.87,470.92 L217.01,471.52 L217.15,472.13 L217.29,472.73 L217.43,473.34 L217.57,473.94 L217.71,474.54 L217.85,475.14 L217.99,475.74 L218.13,476.34 L218.27,476.94 L218.41,477.54 L218.55,478.13 L218.69,478.73 L218.84,479.32 L218.98,479.91 L219.12,480.50 L219.27,481.10 L219.41,481.69 L219.55,482.28 L219.70,482.86 L219.84,483.45 L219.99,484.04 L220.13,484.62 L220.28,485.21 L220.42,485.79 L220.57,486.37 L220.72,486.95 L220.86,487.54 L221.01,488.12 L221.16,488.69 L221.30,489.27 L221.45,489.85 L221.60,490.43 L221.75,491.00 L221.90,491.57 L222.05,492.15 L222.20,492.72 L222.35,493.29 L222.50,493.86 L222.65,494.43 L222.80,495.00 L222.95,495.57 L223.10,496.14 L223.25,496.70 L223.41,497.27 L223.56,497.83 L223.71,498.40 L223.86,498.96 L224.02,499.52 L224.17,500.08 L224.32,500.64 L224.48,501.20 L224.63,501.76 L224.79,502.31 L224.94,502.87 L225.10,503.43 L225.26,503.98 L225.41,504.53 L225.57,505.09 L225.73,505.64 L225.88,506.19 L226.04,506.74 L226.20,507.29 L226.36,507.84 L226.52,508.38 L226.68,508.93 L226.84,509.48 L227.00,510.02 L227.16,510.56 L227.32,511.11 L227.48,511.65 L227.64,512.19 L227.80,512.73 L227.96,513.27 L228.12,513.81 L228.29,514.35 L228.45,514.88 L228.61,515.42 L228.78,515.96 L228.94,516.49 L229.10,517.02 L229.27,517.56 L229.43,518.09 L229.60,518.62 L229.76,519.15 L229.93,519.68 L230.10,520.21 L230.26,520.73 L230.43,521.26 L230.60,521.79 L230.77,522.31 L230.93,522.84 L231.10,523.36 L231.27,523.88 L231.44,524.40 L231.61,524.93 L231.78,525.45 L231.95,525.96 L232.12,526.48 L232.29,527.00 L232.46,527.52 L232.64,528.03 L232.81,528.55 L232.98,529.06 L233.15,529.58 L233.33,530.09 L233.50,530.60 L233.67,531.11 L233.85,531.62 L234.02,532.13 L234.20,532.64 L234.37,533.15 L234.55,533.65 L234.73,534.16 L234.90,534.67 L235.08,535.17 L235.26,535.67 L235.44,536.18 L235.61,536.68 L235.79,537.18 L235.97,537.68 L236.15,538.18 L236.33,538.68 L236.51,539.18 L236.69,539.67 L236.87,540.17 L237.05,540.67 L237.23,541.16 L237.42,541.66 L237.60,542.15 L237.78,542.64 L237.96,543.13 L238.15,543.62 L238.33,544.11 L238.52,544.60 L238.70,545.09 L238.89,545.58 L239.07,546.07 L239.26,546.55 L239.44,547.04 L239.63,547.52 L239.82,548.01 L240.00,548.49 L240.19,548.97 L240.38,549.46 L240.57,549.94 L240.76,550.42 L240.95,550.90 L241.14,551.37 L241.33,551.85 L241.52,552.33 L241.71,552.81 L241.90,553.28 L242.09,553.76 L242.29,554.23 L242.48,554.70 L242.67,555.18 L242.87,555.65 L243.06,556.12 L243.25,556.59 L243.45,557.06 L243.64,557.53 L243.84,557.99 L244.04,558.46 L244.23,558.93 L244.43,559.39 L244.63,559.86 L244.82,560.32 L245.02,560.79 L245.22,561.25 L245.42,561.71 L245.62,562.17 L245.82,562.63 L246.02,563.09 L246.22,563.55 L246.42,564.01 L246.62,564.47 L246.83,564.92 L247.03,565.38 L247.23,565.84 L247.43,566.29 L247.64,566.75 L247.84,567.20 L248.05,567.65 L248.25,568.10 L248.46,568.55 L248.66,569.00 L248.87,569.45 L249.08,569.90 L249.28,570.35 L249.49,570.80 L249.70,571.24 L249.91,571.69 L250.12,572.14 L250.33,572.58 L250.54,573.02 L250.75,573.47 L250.96,573.91 L251.17,574.35 L251.38,574.79 L251.59,575.23 L251.81,575.67 L252.02,576.11 L252.23,576.55 L252.45,576.99 L252.66,577.42 L252.88,577.86 L253.09,578.30 L253.31,578.73 L253.52,579.17 L253.74,579.60 L253.96,580.03 L254.18,580.46 L254.39,580.89 L254.61,581.33 L254.83,581.76 L255.05,582.18 L255.27,582.61 L255.49,583.04 L255.71,583.47 L255.93,583.89 L256.16,584.32 L256.38,584.75 L256.60,585.17 L256.82,585.59 L257.05,586.02 L257.27,586.44 L257.50,586.86 L257.72,587.28 L257.95,587.70 L258.17,588.12 L258.40,588.54 L258.63,588.96 L258.86,589.38 L259.08,589.79 L259.31,590.21 L259.54,590.63 L259.77,591.04 L260.00,591.46 L260.23,591.87 L260.46,592.28 L260.70,592.70 L260.93,593.11 L261.16,593.52 L261.39,593.93 L261.63,594.34 L261.86,594.75 L262.10,595.16 L262.33,595.56 L262.57,595.97 L262.80,596.38 L263.04,596.78 L263.28,597.19 L263.51,597.59 L263.75,598.00 L263.99,598.40 L264.23,598.80 L264.47,599.21 L264.71,599.61 L264.95,600.01 L265.19,600.41 L265.43,600.81 L265.67,601.21 L265.92,601.60 L266.16,602.00 L266.40,602.40 L266.65,602.79 L266.89,603.19 L267.14,603.58 L267.38,603.98 L267.63,604.37 L267.88,604.77 L268.12,605.16 L268.37,605.55 L268.62,605.94 L268.87,606.33 L269.12,606.72 L269.37,607.11 L269.62,607.50 L269.87,607.89 L270.12,608.28 L270.38,608.66 L270.63,609.05 L270.88,609.43 L271.14,609.82 L271.39,610.20 L271.64,610.59 L271.90,610.97 L272.16,611.35 L272.41,611.73 L272.67,612.12 L272.93,612.50 L273.19,612.88 L273.44,613.26 L273.70,613.64 L273.96,614.01 L274.22,614.39 L274.49,614.77 L274.75,615.14 L275.01,615.52 L275.27,615.90 L275.53,616.27 L275.80,616.64 L276.06,617.02 L276.33,617.39 L276.59,617.76 L276.86,618.14 L277.13,618.51 L277.39,618.88 L277.66,619.25 L277.93,619.62 L278.20,619.98 L278.47,620.35 L278.74,620.72 L279.01,621.09 L279.28,621.45 L279.55,621.82 L279.82,622.18 L280.10,622.55 L280.37,622.91 L280.64,623.28 L280.92,623.64 L281.19,624.00 L281.47,624.36 L281.75,624.72 L282.02,625.09 L282.30,625.45 L282.58,625.80 L282.86,626.16 L283.14,626.52 L283.42,626.88 L283.70,627.24 L283.98,627.59 L284.26,627.95 L284.54,628.30 L284.83,628.66 L285.11,629.01 L285.39,629.37 L285.68,629.72 L285.96,630.07 L286.25,630.42 L286.54,630.78 L286.82,631.13 L287.11,631.48 L287.40,631.83 L287.69,632.18 L287.98,632.53 L288.27,632.87 L288.56,633.22 L288.85,633.57 L289.14,633.91 L289.44,634.26 L289.73,634.61 L290.02,634.95 L290.32,635.29 L290.61,635.64 L290.91,635.98 L291.21,636.32 L291.50,636.67 L291.80,637.01 L292.10,637.35 L292.40,637.69 L292.70,638.03 L293.00,638.37 L293.30,638.71 L293.60,639.04 L293.91,639.38 L294.21,639.72 L294.51,640.06 L294.82,640.39 L295.12,640.73 L295.43,641.06 L295.73,641.40 L296.04,641.73 L296.35,642.06 L296.66,642.40 L296.96,642.73 L297.27,643.06 L297.58,643.39 L297.89,643.72 L298.21,644.05 L298.52,644.38 L298.83,644.71 L299.14,645.04 L299.46,645.37 L299.77,645.70 L300.09,646.02 L300.41,646.35 L300.72,646.68 L301.04,647.00 L301.36,647.33 L301.68,647.65 L302.00,647.97 L302.32,648.30 L302.64,648.62 L302.96,648.94 L303.28,649.27 L303.60,649.59 L303.93,649.91 L304.25,650.23 L304.58,650.55 L304.90,650.87 L305.23,651.19 L305.56,651.50 L305.89,651.82 L306.21,652.14 L306.54,652.46 L306.87,652.77 L307.20,653.09 L307.54,653.40 L307.87,653.72 L308.20,654.03 L308.53,654.35 L308.87,654.66 L309.20,654.97 L309.54,655.28 L309.87,655.60 L310.21,655.91 L310.55,656.22 L310.89,656.53 L311.23,656.84 L311.57,657.15 L311.91,657.45 L312.25,657.76 L312.59,658.07 L312.93,658.38 L313.28,658.68 L313.62,658.99 L313.97,659.30 L314.31,659.60 L314.66,659.91 L315.01,660.21 L315.36,660.52 L315.70,660.82 L316.05,661.12 L316.40,661.42 L316.76,661.73 L317.11,662.03 L317.46,662.33 L317.81,662.63 L318.17,662.93 L318.52,663.23 L318.88,663.53 L319.23,663.83 L319.59,664.12 L319.95,664.42 L320.31,664.72 L320.67,665.01 L321.03,665.31 L321.39,665.61 L321.75,665.90 L322.11,666.20 L322.47,666.49 L322.84,666.78 L323.20,667.08 L323.57,667.37 L323.94,667.66 L324.30,667.96 L324.67,668.25 L325.04,668.54 L325.41,668.83 L325.78,669.12 L326.15,669.41 L326.52,669.70 L326.89,669.99 L327.27,670.27 L327.64,670.56 L328.02,670.85 L328.39,671.14 L328.77,671.42 L329.15,671.71 L329.52,671.99 L329.90,672.28 L330.28,672.56 L330.66,672.85 L331.05,673.13 L331.43,673.41 L331.81,673.70 L332.20,673.98 L332.58,674.26 L332.97,674.54 L333.35,674.82 L333.74,675.10 L334.13,675.38 L334.52,675.66 L334.91,675.94 L335.30,676.22 L335.69,676.50 L336.08,676.78 L336.47,677.05 L336.87,677.33 L337.26,677.61 L337.66,677.88 L338.05,678.16 L338.45,678.43 L338.85,678.71 L339.25,678.98 L339.65,679.26 L340.05,679.53 L340.45,679.80 L340.85,680.08 L341.26,680.35 L341.66,680.62 L342.06,680.89 L342.47,681.16 L342.88,681.43 L343.28,681.70 L343.69,681.97 L344.10,682.24 L344.51,682.51 L344.92,682.78 L345.34,683.05 L345.75,683.31 L346.16,683.58 L346.58,683.85 L346.99,684.11 L347.41,684.38 L347.83,684.64 L348.24,684.91 L348.66,685.17 L349.08,685.44 L349.50,685.70 L349.92,685.96 L350.35,686.23 L350.77,686.49 L351.20,686.75 L351.62,687.01 L352.05,687.27 L352.47,687.53 L352.90,687.79 L353.33,688.05 L353.76,688.31 L354.19,688.57 L354.62,688.83 L355.06,689.09 L355.49,689.34 L355.92,689.60 L356.36,689.86 L356.80,690.12 L357.23,690.37 L357.67,690.63 L358.11,690.88 L358.55,691.14 L358.99,691.39 L359.43,691.65 L359.88,691.90 L360.32,692.15 L360.77,692.41 L361.21,692.66 L361.66,692.91 L362.11,693.16 L362.55,693.41 L363.00,693.66 L363.45,693.91 L363.91,694.16 L364.36,694.41 L364.81,694.66 L365.27,694.91 L365.72,695.16 L366.18,695.41 L366.63,695.65 L367.09,695.90 L367.55,696.15 L368.01,696.40 L368.47,696.64 L368.94,696.89 L369.40,697.13 L369.86,697.38 L370.33,697.62 L370.79,697.87 L371.26,698.11 L371.73,698.35 L372.20,698.60 L372.67,698.84 L373.14,699.08 L373.61,699.32 L374.09,699.56 L374.56,699.80 L375.04,700.04 L375.51,700.28 L375.99,700.52 L376.47,700.76 L376.95,701.00 L377.43,701.24 L377.91,701.48 L378.39,701.72 L378.87,701.95 L379.36,702.19 L379.84,702.43 L380.33,702.66 L380.82,702.90 L381.31,703.14 L381.80,703.37 L382.29,703.61 L382.78,703.84 L383.27,704.08 L383.76,704.31 L384.26,704.54 L384.76,704.78 L385.25,705.01 L385.75,705.24 L386.25,705.47 L386.75,705.70 L387.25,705.93 L387.75,706.17 L388.26,706.40 L388.76,706.63 L389.27,706.86 L389.77,707.08 L390.28,707.31 L390.79,707.54 L391.30,707.77 L391.81,708.00 L392.32,708.23 L392.84,708.45 L393.35,708.68 L393.86,708.91 L394.38,709.13 L394.90,709.36 L395.42,709.58 L395.94,709.81 L396.46,710.03 L396.98,710.26 L397.50,710.48 L398.03,710.70 L398.55,710.93 L399.08,711.15 L399.61,711.37 L400.14,711.59 L400.66,711.82 L401.20,712.04 L401.73,712.26 L402.26,712.48 L402.80,712.70 L403.33,712.92 L403.87,713.14 L404.41,713.36 L404.94,713.58 L405.48,713.80 L406.03,714.01 L406.57,714.23 L407.11,714.45 L407.66,714.67 L408.20,714.88 L408.75,715.10 L409.30,715.32 L409.85,715.53 L410.40,715.75 L410.95,715.96 L411.50,716.18 L412.06,716.39 L412.61,716.60 L413.17,716.82 L413.73,717.03 L414.28,717.24 L414.84,717.46 L415.41,717.67 L415.97,717.88 L416.53,718.09 L417.10,718.30 L417.66,718.52 L418.23,718.73 L418.80,718.94 L419.37,719.15 L419.94,719.36 L420.51,719.57 L421.08,719.77 L421.66,719.98 L422.23,720.19 L422.81,720.40 L423.39,720.61 L423.97,720.81 L424.55,721.02 L425.13,721.23 L425.71,721.43 L426.30,721.64 L426.88,721.85 L427.47,722.05 L428.06,722.26 L428.65,722.46 L429.24,722.67 L429.83,722.87 L430.43,723.07 L431.02,723.28 L431.62,723.48 L432.21,723.68 L432.81,723.88 L433.41,724.09 L434.01,724.29 L434.61,724.49 L435.22,724.69 L435.82,724.89 L436.43,725.09 L437.03,725.29 L437.64,725.49 L438.25,725.69 L438.86,725.89 L439.48,726.09 L440.09,726.29 L440.71,726.49 L441.32,726.68 L441.94,726.88 L442.56,727.08 L443.18,727.28 L443.80,727.47 L444.42,727.67 L445.05,727.86 L445.67,728.06 L446.30,728.26 L446.93,728.45 L447.56,728.65 L448.19,728.84 L448.82,729.03 L449.46,729.23 L450.09,729.42 L450.73,729.61 L451.37,729.81 L452.01,730.00 L452.65,730.19 L453.29,730.38 L453.93,730.58 L454.58,730.77 L455.22,730.96 L455.87,731.15 L456.52,731.34 L457.17,731.53 L457.82,731.72 L458.47,731.91 L459.13,732.10 L459.78,732.29 L460.44,732.48 L461.10,732.66 L461.76,732.85 L462.42,733.04 L463.08,733.23 L463.75,733.41 L464.41,733.60 L465.08,733.79 L465.75,733.97 L466.42,734.16 L467.09,734.35 L467.76,734.53 L468.44,734.72 L469.11,734.90 L469.79,735.09 L470.47,735.27 L471.15,735.45 L471.83,735.64 L472.51,735.82 L473.20,736.00 L473.88,736.19 L474.57,736.37 L475.26,736.55 L475.95,736.73 L476.64,736.91 L477.33,737.10 L478.03,737.28 L478.72,737.46 L479.42,737.64 L480.12,737.82 L480.82,738.00 L481.52,738.18 L482.23,738.36 L482.93,738.53 L483.64,738.71 L484.35,738.89 L485.06,739.07 L485.77,739.25 L486.48,739.43 L487.19,739.60 L487.91,739.78 L488.63,739.96 L489.35,740.13 L490.07,740.31 L490.79,740.48 L491.51,740.66 L492.24,740.83 L492.96,741.01 L493.69,741.18 L494.42,741.36 L495.15,741.53 L495.88,741.71 L496.62,741.88 L497.35,742.05 L498.09,742.23 L498.83,742.40 L499.57,742.57 L500.31,742.74 L501.06,742.92 L501.80,743.09 L502.55,743.26 L503.30,743.43 L504.05,743.60 L504.80,743.77 L505.55,743.94 L506.31,744.11 L507.06,744.28 L507.82,744.45 L508.58,744.62 L509.34,744.79 L510.11,744.96 L510.87,745.13 L511.64,745.29 L512.41,745.46 L513.17,745.63 L513.95,745.80 L514.72,745.96 L515.49,746.13 L516.27,746.30 L517.05,746.46 L517.83,746.63 L518.61,746.80 L519.39,746.96 L520.17,747.13 L520.96,747.29 L521.75,747.46 L522.54,747.62 L523.33,747.78 L524.12,747.95 L524.92,748.11 L525.71,748.27 L526.51,748.44 L527.31,748.60 L528.11,748.76 L528.91,748.93 L529.72,749.09 L530.53,749.25 L531.33,749.41 L532.14,749.57 L532.96,749.73 L533.77,749.89 L534.58,750.05 L535.40,750.21 L536.22,750.37 L537.04,750.53 L537.86,750.69 L538.69,750.85 L539.51,751.01 L540.34,751.17 L541.17,751.33 L542.00,751.49 L542.83,751.65 L543.67,751.80 L544.50,751.96 L545.34,752.12 L546.18,752.27 L547.02,752.43 L547.87,752.59 L548.71,752.74 L549.56,752.90 L550.41,753.06 L551.26,753.21 L552.11,753.37 L552.96,753.52 L553.82,753.68 L554.68,753.83 L555.54,753.98 L556.40,754.14 L557.26,754.29 L558.13,754.45 L559.00,754.60 L559.86,754.75 L560.74,754.90 L561.61,755.06 L562.48,755.21 L563.36,755.36 L564.24,755.51 L565.12,755.66 L566.00,755.82 L566.88,755.97 L567.77,756.12 L568.66,756.27 L569.55,756.42 L570.44,756.57 L571.33,756.72 L572.23,756.87 L573.12,757.02 L574.02,757.17 L574.92,757.31 L575.83,757.46 L576.73,757.61 L577.64,757.76 L578.55,757.91 L579.46,758.06 L580.37,758.20 L581.29,758.35 L582.20,758.50 L583.12,758.64 L584.04,758.79 L584.96,758.94 L585.89,759.08 L586.82,759.23 L587.74,759.37 L588.67,759.52 L589.61,759.66 L590.54,759.81 L591.48,759.95 L592.42,760.10 L593.36,760.24 L594.30,760.39 L595.24,760.53 L596.19,760.67 L597.14,760.82 L598.09,760.96 L599.04,761.10 L600.00,761.25 L600.95,761.39 L601.91,761.53 L602.87,761.67 L603.83,761.81 L604.80,761.95 L605.77,762.10 L606.73,762.24 L607.71,762.38 L608.68,762.52 L609.65,762.66 L610.63,762.80 L611.61,762.94 L612.59,763.08 L613.57,763.22 L614.56,763.36 L615.55,763.50 L616.54,763.63 L617.53,763.77 L618.52,763.91 L619.52,764.05 L620.52,764.19 L621.52,764.32 L622.52,764.46 L623.52,764.60 L624.53,764.74 L625.54,764.87 L626.55,765.01 L627.56,765.15 L628.58,765.28 L629.60,765.42 L630.62,765.55 L631.64,765.69 L632.66,765.82 L633.69,765.96 L634.72,766.09 L635.75,766.23 L636.78,766.36 L637.82,766.50 L638.85,766.63 L639.89,766.77 L640.94,766.90 L641.98,767.03 L643.03,767.17 L644.07,767.30 L645.12,767.43 L646.18,767.56 L647.23,767.70 L648.29,767.83 L649.35,767.96 L650.41,768.09 L651.48,768.22 L652.54,768.35 L653.61,768.48 L654.68,768.62 L655.76,768.75 L656.83,768.88 L657.91,769.01 L658.99,769.14 L660.07,769.27 L661.16,769.40 L662.24,769.52 L663.33,769.65 L664.43,769.78 L665.52,769.91 L666.62,770.04 L667.71,770.17 L668.82,770.30 L669.92,770.42 L671.02,770.55 L672.13,770.68 L673.24,770.81 L674.36,770.93 L675.47,771.06 L676.59,771.19 L677.71,771.31 L678.83,771.44 L679.96,771.57 L681.08,771.69 L682.21,771.82 L683.35,771.94 L684.48,772.07 L685.62,772.19 L686.76,772.32 L687.90,772.44 L689.04,772.57 L690.19,772.69 L691.34,772.82 L692.49,772.94 L693.64,773.06 L694.80,773.19 L695.96,773.31 L697.12,773.43 L698.29,773.56 L699.45,773.68 L700.62,773.80 L701.79,773.92 L702.97,774.05 L704.14,774.17 L705.32,774.29 L706.50,774.41 L707.69,774.53 L708.87,774.65 L710.06,774.77 L711.25,774.89 L712.45,775.01 L713.64,775.14 L714.84,775.26 L716.05,775.38 L717.25,775.49 L718.46,775.61 L719.67,775.73 L720.88,775.85 L722.09,775.97 L723.31,776.09 L724.53,776.21 L725.75,776.33 L726.98,776.45 L728.20,776.56 L729.44,776.68 L730.67,776.80 L731.90,776.92 L733.14,777.03 L734.38,777.15 L735.63,777.27 L736.87,777.39 L738.12,777.50 L739.37,777.62 L740.63,777.73 L741.88,777.85 L743.14,777.97 L744.41,778.08 L745.67,778.20 L746.94,778.31 L748.21,778.43 L749.48,778.54 L750.76,778.66 L752.03,778.77 L753.32,778.89 L754.60,779.00 L1055.90,779.00" fill="none" stroke="#D95319" stroke-width="4.0" stroke-dasharray="16 16" stroke-linejoin="round"/><path d="M206.78,66.00 L206.87,67.25 L206.96,68.51 L207.05,69.75 L207.13,71.00 L207.22,72.25 L207.31,73.49 L207.40,74.73 L207.49,75.97 L207.58,77.21 L207.67,78.45 L207.75,79.68 L207.84,80.91 L207.93,82.14 L208.02,83.37 L208.11,84.60 L208.20,85.82 L208.29,87.04 L208.38,88.26 L208.47,89.48 L208.56,90.70 L208.65,91.91 L208.74,93.12 L208.83,94.33 L208.93,95.54 L209.02,96.75 L209.11,97.95 L209.20,99.15 L209.29,100.35 L209.38,101.55 L209.47,102.75 L209.57,103.94 L209.66,105.14 L209.75,106.33 L209.84,107.52 L209.94,108.70 L210.03,109.89 L210.12,111.07 L210.22,112.26 L210.31,113.43 L210.40,114.61 L210.50,115.79 L210.59,116.96 L210.68,118.13 L210.78,119.31 L210.87,120.47 L210.96,121.64 L211.06,122.80 L211.15,123.97 L211.25,125.13 L211.34,126.29 L211.44,127.44 L211.53,128.60 L211.63,129.75 L211.72,130.91 L211.82,132.06 L211.92,133.20 L212.01,134.35 L212.11,135.49 L212.20,136.64 L212.30,137.78 L212.40,138.92 L212.49,140.05 L212.59,141.19 L212.69,142.32 L212.78,143.45 L212.88,144.58 L212.98,145.71 L213.08,146.84 L213.17,147.96 L213.27,149.08 L213.37,150.21 L213.47,151.32 L213.57,152.44 L213.67,153.56 L213.76,154.67 L213.86,155.78 L213.96,156.89 L214.06,158.00 L214.16,159.11 L214.26,160.21 L214.36,161.32 L214.46,162.42 L214.56,163.52 L214.66,164.61 L214.76,165.71 L214.86,166.80 L214.96,167.90 L215.06,168.99 L215.16,170.08 L215.26,171.16 L215.37,172.25 L215.47,173.33 L215.57,174.42 L215.67,175.50 L215.77,176.57 L215.87,177.65 L215.98,178.73 L216.08,179.80 L216.18,180.87 L216.28,181.94 L216.39,183.01 L216.49,184.08 L216.59,185.14 L216.70,186.20 L216.80,187.27 L216.90,188.33 L217.01,189.38 L217.11,190.44 L217.22,191.49 L217.32,192.55 L217.43,193.60 L217.53,194.65 L217.64,195.70 L217.74,196.74 L217.85,197.79 L217.95,198.83 L218.06,199.87 L218.16,200.91 L218.27,201.95 L218.37,202.99 L218.48,204.02 L218.59,205.05 L218.69,206.08 L218.80,207.11 L218.91,208.14 L219.01,209.17 L219.12,210.19 L219.23,211.22 L219.34,212.24 L219.45,213.26 L219.55,214.28 L219.66,215.29 L219.77,216.31 L219.88,217.32 L219.99,218.33 L220.10,219.34 L220.20,220.35 L220.31,221.36 L220.42,222.36 L220.53,223.37 L220.64,224.37 L220.75,225.37 L220.86,226.37 L220.97,227.37 L221.08,228.36 L221.19,229.36 L221.30,230.35 L221.42,231.34 L221.53,232.33 L221.64,233.32 L221.75,234.30 L221.86,235.29 L221.97,236.27 L222.08,237.25 L222.20,238.23 L222.31,239.21 L222.42,240.19 L222.53,241.16 L222.65,242.14 L222.76,243.11 L222.87,244.08 L222.99,245.05 L223.10,246.01 L223.21,246.98 L223.33,247.94 L223.44,248.91 L223.56,249.87 L223.67,250.83 L223.79,251.79 L223.90,252.74 L224.02,253.70 L224.13,254.65 L224.25,255.60 L224.36,256.55 L224.48,257.50 L224.60,258.45 L224.71,259.40 L224.83,260.34 L224.94,261.28 L225.06,262.23 L225.18,263.17 L225.30,264.10 L225.41,265.04 L225.53,265.98 L225.65,266.91 L225.77,267.84 L225.88,268.77 L226.00,269.70 L226.12,270.63 L226.24,271.56 L226.36,272.48 L226.48,273.41 L226.60,274.33 L226.72,275.25 L226.84,276.17 L226.96,277.09 L227.08,278.00 L227.20,278.92 L227.32,279.83 L227.44,280.74 L227.56,281.65 L227.68,282.56 L227.80,283.47 L227.92,284.38 L228.04,285.28 L228.16,286.18 L228.29,287.09 L228.41,287.99 L228.53,288.88 L228.65,289.78 L228.78,290.68 L228.90,291.57 L229.02,292.46 L229.14,293.36 L229.27,294.25 L229.39,295.14 L229.52,296.02 L229.64,296.91 L229.76,297.79 L229.89,298.68 L230.01,299.56 L230.14,300.44 L230.26,301.32 L230.39,302.19 L230.51,303.07 L230.64,303.95 L230.77,304.82 L230.89,305.69 L231.02,306.56 L231.14,307.43 L231.27,308.30 L231.40,309.16 L231.53,310.03 L231.65,310.89 L231.78,311.76 L231.91,312.62 L232.04,313.48 L232.16,314.33 L232.29,315.19 L232.42,316.05 L232.55,316.90 L232.68,317.75 L232.81,318.60 L232.94,319.45 L233.07,320.30 L233.20,321.15 L233.33,321.99 L233.46,322.84 L233.59,323.68 L233.72,324.52 L233.85,325.36 L233.98,326.20 L234.11,327.04 L234.24,327.88 L234.37,328.71 L234.51,329.55 L234.64,330.38 L234.77,331.21 L234.90,332.04 L235.04,332.87 L235.17,333.69 L235.30,334.52 L235.44,335.34 L235.57,336.17 L235.70,336.99 L235.84,337.81 L235.97,338.63 L236.11,339.45 L236.24,340.26 L236.37,341.08 L236.51,341.89 L236.65,342.71 L236.78,343.52 L236.92,344.33 L237.05,345.14 L237.19,345.94 L237.32,346.75 L237.46,347.55 L237.60,348.36 L237.74,349.16 L237.87,349.96 L238.01,350.76 L238.15,351.56 L238.29,352.36 L238.42,353.15 L238.56,353.95 L238.70,354.74 L238.84,355.53 L238.98,356.32 L239.12,357.11 L239.26,357.90 L239.40,358.69 L239.54,359.47 L239.68,360.26 L239.82,361.04 L239.96,361.82 L240.10,362.60 L240.24,363.38 L240.38,364.16 L240.52,364.94 L240.66,365.71 L240.81,366.49 L240.95,367.26 L241.09,368.03 L241.23,368.81 L241.38,369.58 L241.52,370.34 L241.66,371.11 L241.81,371.88 L241.95,372.64 L242.09,373.41 L242.24,374.17 L242.38,374.93 L242.53,375.69 L242.67,376.45 L242.82,377.20 L242.96,377.96 L243.11,378.72 L243.25,379.47 L243.40,380.22 L243.55,380.97 L243.69,381.72 L243.84,382.47 L243.99,383.22 L244.13,383.97 L244.28,384.71 L244.43,385.46 L244.58,386.20 L244.73,386.94 L244.87,387.68 L245.02,388.42 L245.17,389.16 L245.32,389.90 L245.47,390.63 L245.62,391.37 L245.77,392.10 L245.92,392.83 L246.07,393.56 L246.22,394.29 L246.37,395.02 L246.52,395.75 L246.67,396.48 L246.83,397.20 L246.98,397.93 L247.13,398.65 L247.28,399.37 L247.43,400.09 L247.59,400.81 L247.74,401.53 L247.89,402.25 L248.05,402.96 L248.20,403.68 L248.36,404.39 L248.51,405.11 L248.66,405.82 L248.82,406.53 L248.97,407.24 L249.13,407.95 L249.28,408.65 L249.44,409.36 L249.60,410.06 L249.75,410.77 L249.91,411.47 L250.07,412.17 L250.22,412.87 L250.38,413.57 L250.54,414.27 L250.70,414.97 L250.85,415.66 L251.01,416.36 L251.17,417.05 L251.33,417.74 L251.49,418.43 L251.65,419.12 L251.81,419.81 L251.97,420.50 L252.13,421.19 L252.29,421.87 L252.45,422.56 L252.61,423.24 L252.77,423.92 L252.93,424.61 L253.09,425.29 L253.25,425.97 L253.42,426.64 L253.58,427.32 L253.74,428.00 L253.90,428.67 L254.07,429.35 L254.23,430.02 L254.39,430.69 L254.56,431.36 L254.72,432.03 L254.89,432.70 L255.05,433.37 L255.22,434.03 L255.38,434.70 L255.55,435.36 L255.71,436.03 L255.88,436.69 L256.04,437.35 L256.21,438.01 L256.38,438.67 L256.55,439.33 L256.71,439.98 L256.88,440.64 L257.05,441.29 L257.22,441.95 L257.39,442.60 L257.55,443.25 L257.72,443.90 L257.89,444.55 L258.06,445.20 L258.23,445.85 L258.40,446.50 L258.57,447.14 L258.74,447.79 L258.91,448.43 L259.08,449.07 L259.26,449.71 L259.43,450.35 L259.60,450.99 L259.77,451.63 L259.94,452.27 L260.12,452.90 L260.29,453.54 L260.46,454.17 L260.64,454.81 L260.81,455.44 L260.99,456.07 L261.16,456.70 L261.33,457.33 L261.51,457.96 L261.68,458.58 L261.86,459.21 L262.04,459.83 L262.21,460.46 L262.39,461.08 L262.57,461.70 L262.74,462.33 L262.92,462.95 L263.10,463.56 L263.28,464.18 L263.45,464.80 L263.63,465.42 L263.81,466.03 L263.99,466.65 L264.17,467.26 L264.35,467.87 L264.53,468.48 L264.71,469.09 L264.89,469.70 L265.07,470.31 L265.25,470.92 L265.43,471.52 L265.61,472.13 L265.80,472.73 L265.98,473.34 L266.16,473.94 L266.34,474.54 L266.53,475.14 L266.71,475.74 L266.89,476.34 L267.08,476.94 L267.26,477.54 L267.45,478.13 L267.63,478.73 L267.82,479.32 L268.00,479.91 L268.19,480.50 L268.37,481.10 L268.56,481.69 L268.75,482.28 L268.93,482.86 L269.12,483.45 L269.31,484.04 L269.50,484.62 L269.68,485.21 L269.87,485.79 L270.06,486.37 L270.25,486.95 L270.44,487.54 L270.63,488.12 L270.82,488.69 L271.01,489.27 L271.20,489.85 L271.39,490.43 L271.58,491.00 L271.77,491.57 L271.96,492.15 L272.16,492.72 L272.35,493.29 L272.54,493.86 L272.73,494.43 L272.93,495.00 L273.12,495.57 L273.32,496.14 L273.51,496.70 L273.70,497.27 L273.90,497.83 L274.09,498.40 L274.29,498.96 L274.49,499.52 L274.68,500.08 L274.88,500.64 L275.07,501.20 L275.27,501.76 L275.47,502.31 L275.67,502.87 L275.86,503.43 L276.06,503.98 L276.26,504.53 L276.46,505.09 L276.66,505.64 L276.86,506.19 L277.06,506.74 L277.26,507.29 L277.46,507.84 L277.66,508.38 L277.86,508.93 L278.06,509.48 L278.26,510.02 L278.47,510.56 L278.67,511.11 L278.87,511.65 L279.08,512.19 L279.28,512.73 L279.48,513.27 L279.69,513.81 L279.89,514.35 L280.10,514.88 L280.30,515.42 L280.51,515.96 L280.71,516.49 L280.92,517.02 L281.12,517.56 L281.33,518.09 L281.54,518.62 L281.75,519.15 L281.95,519.68 L282.16,520.21 L282.37,520.73 L282.58,521.26 L282.79,521.79 L283.00,522.31 L283.21,522.84 L283.42,523.36 L283.63,523.88 L283.84,524.40 L284.05,524.93 L284.26,525.45 L284.47,525.96 L284.68,526.48 L284.90,527.00 L285.11,527.52 L285.32,528.03 L285.54,528.55 L285.75,529.06 L285.96,529.58 L286.18,530.09 L286.39,530.60 L286.61,531.11 L286.82,531.62 L287.04,532.13 L287.26,532.64 L287.47,533.15 L287.69,533.65 L287.91,534.16 L288.12,534.67 L288.34,535.17 L288.56,535.67 L288.78,536.18 L289.00,536.68 L289.22,537.18 L289.44,537.68 L289.66,538.18 L289.88,538.68 L290.10,539.18 L290.32,539.67 L290.54,540.17 L290.76,540.67 L290.98,541.16 L291.21,541.66 L291.43,542.15 L291.65,542.64 L291.88,543.13 L292.10,543.62 L292.32,544.11 L292.55,544.60 L292.77,545.09 L293.00,545.58 L293.23,546.07 L293.45,546.55 L293.68,547.04 L293.91,547.52 L294.13,548.01 L294.36,548.49 L294.59,548.97 L294.82,549.46 L295.04,549.94 L295.27,550.42 L295.50,550.90 L295.73,551.37 L295.96,551.85 L296.19,552.33 L296.42,552.81 L296.66,553.28 L296.89,553.76 L297.12,554.23 L297.35,554.70 L297.58,555.18 L297.82,555.65 L298.05,556.12 L298.28,556.59 L298.52,557.06 L298.75,557.53 L298.99,557.99 L299.22,558.46 L299.46,558.93 L299.70,559.39 L299.93,559.86 L300.17,560.32 L300.41,560.79 L300.64,561.25 L300.88,561.71 L301.12,562.17 L301.36,562.63 L301.60,563.09 L301.84,563.55 L302.08,564.01 L302.32,564.47 L302.56,564.92 L302.80,565.38 L303.04,565.84 L303.28,566.29 L303.52,566.75 L303.77,567.20 L304.01,567.65 L304.25,568.10 L304.50,568.55 L304.74,569.00 L304.99,569.45 L305.23,569.90 L305.48,570.35 L305.72,570.80 L305.97,571.24 L306.21,571.69 L306.46,572.14 L306.71,572.58 L306.96,573.02 L307.20,573.47 L307.45,573.91 L307.70,574.35 L307.95,574.79 L308.20,575.23 L308.45,575.67 L308.70,576.11 L308.95,576.55 L309.20,576.99 L309.45,577.42 L309.71,577.86 L309.96,578.30 L310.21,578.73 L310.47,579.17 L310.72,579.60 L310.97,580.03 L311.23,580.46 L311.48,580.89 L311.74,581.33 L311.99,581.76 L312.25,582.18 L312.51,582.61 L312.76,583.04 L313.02,583.47 L313.28,583.89 L313.54,584.32 L313.80,584.75 L314.05,585.17 L314.31,585.59 L314.57,586.02 L314.83,586.44 L315.09,586.86 L315.36,587.28 L315.62,587.70 L315.88,588.12 L316.14,588.54 L316.40,588.96 L316.67,589.38 L316.93,589.79 L317.19,590.21 L317.46,590.63 L317.72,591.04 L317.99,591.46 L318.26,591.87 L318.52,592.28 L318.79,592.70 L319.06,593.11 L319.32,593.52 L319.59,593.93 L319.86,594.34 L320.13,594.75 L320.40,595.16 L320.67,595.56 L320.94,595.97 L321.21,596.38 L321.48,596.78 L321.75,597.19 L322.02,597.59 L322.29,598.00 L322.57,598.40 L322.84,598.80 L323.11,599.21 L323.39,599.61 L323.66,600.01 L323.94,600.41 L324.21,600.81 L324.49,601.21 L324.76,601.60 L325.04,602.00 L325.32,602.40 L325.59,602.79 L325.87,603.19 L326.15,603.58 L326.43,603.98 L326.71,604.37 L326.99,604.77 L327.27,605.16 L327.55,605.55 L327.83,605.94 L328.11,606.33 L328.39,606.72 L328.67,607.11 L328.96,607.50 L329.24,607.89 L329.52,608.28 L329.81,608.66 L330.09,609.05 L330.38,609.43 L330.66,609.82 L330.95,610.20 L331.24,610.59 L331.52,610.97 L331.81,611.35 L332.10,611.73 L332.39,612.12 L332.68,612.50 L332.97,612.88 L333.26,613.26 L333.55,613.64 L333.84,614.01 L334.13,614.39 L334.42,614.77 L334.71,615.14 L335.00,615.52 L335.30,615.90 L335.59,616.27 L335.88,616.64 L336.18,617.02 L336.47,617.39 L336.77,617.76 L337.06,618.14 L337.36,618.51 L337.66,618.88 L337.95,619.25 L338.25,619.62 L338.55,619.98 L338.85,620.35 L339.15,620.72 L339.45,621.09 L339.75,621.45 L340.05,621.82 L340.35,622.18 L340.65,622.55 L340.95,622.91 L341.26,623.28 L341.56,623.64 L341.86,624.00 L342.17,624.36 L342.47,624.72 L342.78,625.09 L343.08,625.45 L343.39,625.80 L343.69,626.16 L344.00,626.52 L344.31,626.88 L344.62,627.24 L344.92,627.59 L345.23,627.95 L345.54,628.30 L345.85,628.66 L346.16,629.01 L346.47,629.37 L346.78,629.72 L347.10,630.07 L347.41,630.42 L347.72,630.78 L348.03,631.13 L348.35,631.48 L348.66,631.83 L348.98,632.18 L349.29,632.53 L349.61,632.87 L349.92,633.22 L350.24,633.57 L350.56,633.91 L350.88,634.26 L351.20,634.61 L351.51,634.95 L351.83,635.29 L352.15,635.64 L352.47,635.98 L352.80,636.32 L353.12,636.67 L353.44,637.01 L353.76,637.35 L354.08,637.69 L354.41,638.03 L354.73,638.37 L355.06,638.71 L355.38,639.04 L355.71,639.38 L356.03,639.72 L356.36,640.06 L356.69,640.39 L357.01,640.73 L357.34,641.06 L357.67,641.40 L358.00,641.73 L358.33,642.06 L358.66,642.40 L358.99,642.73 L359.32,643.06 L359.65,643.39 L359.99,643.72 L360.32,644.05 L360.65,644.38 L360.99,644.71 L361.32,645.04 L361.66,645.37 L361.99,645.70 L362.33,646.02 L362.67,646.35 L363.00,646.68 L363.34,647.00 L363.68,647.33 L364.02,647.65 L364.36,647.97 L364.70,648.30 L365.04,648.62 L365.38,648.94 L365.72,649.27 L366.06,649.59 L366.41,649.91 L366.75,650.23 L367.09,650.55 L367.44,650.87 L367.78,651.19 L368.13,651.50 L368.47,651.82 L368.82,652.14 L369.17,652.46 L369.52,652.77 L369.86,653.09 L370.21,653.40 L370.56,653.72 L370.91,654.03 L371.26,654.35 L371.61,654.66 L371.96,654.97 L372.32,655.28 L372.67,655.60 L373.02,655.91 L373.38,656.22 L373.73,656.53 L374.09,656.84 L374.44,657.15 L374.80,657.45 L375.15,657.76 L375.51,658.07 L375.87,658.38 L376.23,658.68 L376.59,658.99 L376.95,659.30 L377.31,659.60 L377.67,659.91 L378.03,660.21 L378.39,660.52 L378.75,660.82 L379.12,661.12 L379.48,661.42 L379.84,661.73 L380.21,662.03 L380.57,662.33 L380.94,662.63 L381.31,662.93 L381.67,663.23 L382.04,663.53 L382.41,663.83 L382.78,664.12 L383.15,664.42 L383.52,664.72 L383.89,665.01 L384.26,665.31 L384.63,665.61 L385.00,665.90 L385.38,666.20 L385.75,666.49 L386.12,666.78 L386.50,667.08 L386.87,667.37 L387.25,667.66 L387.63,667.96 L388.00,668.25 L388.38,668.54 L388.76,668.83 L389.14,669.12 L389.52,669.41 L389.90,669.70 L390.28,669.99 L390.66,670.27 L391.04,670.56 L391.43,670.85 L391.81,671.14 L392.19,671.42 L392.58,671.71 L392.96,671.99 L393.35,672.28 L393.74,672.56 L394.12,672.85 L394.51,673.13 L394.90,673.41 L395.29,673.70 L395.68,673.98 L396.07,674.26 L396.46,674.54 L396.85,674.82 L397.24,675.10 L397.63,675.38 L398.03,675.66 L398.42,675.94 L398.82,676.22 L399.21,676.50 L399.61,676.78 L400.00,677.05 L400.40,677.33 L400.80,677.61 L401.20,677.88 L401.59,678.16 L401.99,678.43 L402.39,678.71 L402.80,678.98 L403.20,679.26 L403.60,679.53 L404.00,679.80 L404.41,680.08 L404.81,680.35 L405.21,680.62 L405.62,680.89 L406.03,681.16 L406.43,681.43 L406.84,681.70 L407.25,681.97 L407.66,682.24 L408.07,682.51 L408.48,682.78 L408.89,683.05 L409.30,683.31 L409.71,683.58 L410.12,683.85 L410.54,684.11 L410.95,684.38 L411.36,684.64 L411.78,684.91 L412.19,685.17 L412.61,685.44 L413.03,685.70 L413.45,685.96 L413.86,686.23 L414.28,686.49 L414.70,686.75 L415.12,687.01 L415.55,687.27 L415.97,687.53 L416.39,687.79 L416.81,688.05 L417.24,688.31 L417.66,688.57 L418.09,688.83 L418.51,689.09 L418.94,689.34 L419.37,689.60 L419.80,689.86 L420.22,690.12 L420.65,690.37 L421.08,690.63 L421.51,690.88 L421.95,691.14 L422.38,691.39 L422.81,691.65 L423.24,691.90 L423.68,692.15 L424.11,692.41 L424.55,692.66 L424.99,692.91 L425.42,693.16 L425.86,693.41 L426.30,693.66 L426.74,693.91 L427.18,694.16 L427.62,694.41 L428.06,694.66 L428.50,694.91 L428.94,695.16 L429.39,695.41 L429.83,695.65 L430.28,695.90 L430.72,696.15 L431.17,696.40 L431.62,696.64 L432.06,696.89 L432.51,697.13 L432.96,697.38 L433.41,697.62 L433.86,697.87 L434.31,698.11 L434.76,698.35 L435.22,698.60 L435.67,698.84 L436.12,699.08 L436.58,699.32 L437.03,699.56 L437.49,699.80 L437.95,700.04 L438.41,700.28 L438.86,700.52 L439.32,700.76 L439.78,701.00 L440.24,701.24 L440.71,701.48 L441.17,701.72 L441.63,701.95 L442.09,702.19 L442.56,702.43 L443.02,702.66 L443.49,702.90 L443.96,703.14 L444.42,703.37 L444.89,703.61 L445.36,703.84 L445.83,704.08 L446.30,704.31 L446.77,704.54 L447.24,704.78 L447.72,705.01 L448.19,705.24 L448.66,705.47 L449.14,705.70 L449.62,705.93 L450.09,706.17 L450.57,706.40 L451.05,706.63 L451.53,706.86 L452.01,707.08 L452.49,707.31 L452.97,707.54 L453.45,707.77 L453.93,708.00 L454.41,708.23 L454.90,708.45 L455.38,708.68 L455.87,708.91 L456.36,709.13 L456.84,709.36 L457.33,709.58 L457.82,709.81 L458.31,710.03 L458.80,710.26 L459.29,710.48 L459.78,710.70 L460.28,710.93 L460.77,711.15 L461.26,711.37 L461.76,711.59 L462.25,711.82 L462.75,712.04 L463.25,712.26 L463.75,712.48 L464.25,712.70 L464.75,712.92 L465.25,713.14 L465.75,713.36 L466.25,713.58 L466.75,713.80 L467.26,714.01 L467.76,714.23 L468.27,714.45 L468.77,714.67 L469.28,714.88 L469.79,715.10 L470.30,715.32 L470.81,715.53 L471.32,715.75 L471.83,715.96 L472.34,716.18 L472.85,716.39 L473.37,716.60 L473.88,716.82 L474.40,717.03 L474.91,717.24 L475.43,717.46 L475.95,717.67 L476.47,717.88 L476.99,718.09 L477.51,718.30 L478.03,718.52 L478.55,718.73 L479.07,718.94 L479.60,719.15 L480.12,719.36 L480.65,719.57 L481.17,719.77 L481.70,719.98 L482.23,720.19 L482.76,720.40 L483.29,720.61 L483.82,720.81 L484.35,721.02 L484.88,721.23 L485.41,721.43 L485.95,721.64 L486.48,721.85 L487.02,722.05 L487.55,722.26 L488.09,722.46 L488.63,722.67 L489.17,722.87 L489.71,723.07 L490.25,723.28 L490.79,723.48 L491.33,723.68 L491.87,723.88 L492.42,724.09 L492.96,724.29 L493.51,724.49 L494.06,724.69 L494.60,724.89 L495.15,725.09 L495.70,725.29 L496.25,725.49 L496.80,725.69 L497.35,725.89 L497.91,726.09 L498.46,726.29 L499.02,726.49 L499.57,726.68 L500.13,726.88 L500.68,727.08 L501.24,727.28 L501.80,727.47 L502.36,727.67 L502.92,727.86 L503.49,728.06 L504.05,728.26 L504.61,728.45 L505.18,728.65 L505.74,728.84 L506.31,729.03 L506.87,729.23 L507.44,729.42 L508.01,729.61 L508.58,729.81 L509.15,730.00 L509.72,730.19 L510.30,730.38 L510.87,730.58 L511.45,730.77 L512.02,730.96 L512.60,731.15 L513.17,731.34 L513.75,731.53 L514.33,731.72 L514.91,731.91 L515.49,732.10 L516.07,732.29 L516.66,732.48 L517.24,732.66 L517.83,732.85 L518.41,733.04 L519.00,733.23 L519.59,733.41 L520.17,733.60 L520.76,733.79 L521.35,733.97 L521.95,734.16 L522.54,734.35 L523.13,734.53 L523.73,734.72 L524.32,734.90 L524.92,735.09 L525.51,735.27 L526.11,735.45 L526.71,735.64 L527.31,735.82 L527.91,736.00 L528.51,736.19 L529.12,736.37 L529.72,736.55 L530.32,736.73 L530.93,736.91 L531.54,737.10 L532.14,737.28 L532.75,737.46 L533.36,737.64 L533.97,737.82 L534.58,738.00 L535.20,738.18 L535.81,738.36 L536.42,738.53 L537.04,738.71 L537.66,738.89 L538.27,739.07 L538.89,739.25 L539.51,739.43 L540.13,739.60 L540.75,739.78 L541.38,739.96 L542.00,740.13 L542.62,740.31 L543.25,740.48 L543.88,740.66 L544.50,740.83 L545.13,741.01 L545.76,741.18 L546.39,741.36 L547.02,741.53 L547.65,741.71 L548.29,741.88 L548.92,742.05 L549.56,742.23 L550.19,742.40 L550.83,742.57 L551.47,742.74 L552.11,742.92 L552.75,743.09 L553.39,743.26 L554.03,743.43 L554.68,743.60 L555.32,743.77 L555.97,743.94 L556.62,744.11 L557.26,744.28 L557.91,744.45 L558.56,744.62 L559.21,744.79 L559.86,744.96 L560.52,745.13 L561.17,745.29 L561.83,745.46 L562.48,745.63 L563.14,745.80 L563.80,745.96 L564.46,746.13 L565.12,746.30 L565.78,746.46 L566.44,746.63 L567.11,746.80 L567.77,746.96 L568.44,747.13 L569.10,747.29 L569.77,747.46 L570.44,747.62 L571.11,747.78 L571.78,747.95 L572.45,748.11 L573.12,748.27 L573.80,748.44 L574.47,748.60 L575.15,748.76 L575.83,748.93 L576.51,749.09 L577.19,749.25 L577.87,749.41 L578.55,749.57 L579.23,749.73 L579.92,749.89 L580.60,750.05 L581.29,750.21 L581.97,750.37 L582.66,750.53 L583.35,750.69 L584.04,750.85 L584.73,751.01 L585.43,751.17 L586.12,751.33 L586.82,751.49 L587.51,751.65 L588.21,751.80 L588.91,751.96 L589.61,752.12 L590.31,752.27 L591.01,752.43 L591.71,752.59 L592.42,752.74 L593.12,752.90 L593.83,753.06 L594.53,753.21 L595.24,753.37 L595.95,753.52 L596.66,753.68 L597.38,753.83 L598.09,753.98 L598.80,754.14 L599.52,754.29 L600.23,754.45 L600.95,754.60 L601.67,754.75 L602.39,754.90 L603.11,755.06 L603.83,755.21 L604.56,755.36 L605.28,755.51 L606.01,755.66 L606.73,755.82 L607.46,755.97 L608.19,756.12 L608.92,756.27 L609.65,756.42 L610.39,756.57 L611.12,756.72 L611.85,756.87 L612.59,757.02 L613.33,757.17 L614.07,757.31 L614.81,757.46 L615.55,757.61 L616.29,757.76 L617.03,757.91 L617.78,758.06 L618.52,758.20 L619.27,758.35 L620.02,758.50 L620.77,758.64 L621.52,758.79 L622.27,758.94 L623.02,759.08 L623.78,759.23 L624.53,759.37 L625.29,759.52 L626.05,759.66 L626.80,759.81 L627.56,759.95 L628.33,760.10 L629.09,760.24 L629.85,760.39 L630.62,760.53 L631.38,760.67 L632.15,760.82 L632.92,760.96 L633.69,761.10 L634.46,761.25 L635.23,761.39 L636.01,761.53 L636.78,761.67 L637.56,761.81 L638.34,761.95 L639.11,762.10 L639.89,762.24 L640.68,762.38 L641.46,762.52 L642.24,762.66 L643.03,762.80 L643.81,762.94 L644.60,763.08 L645.39,763.22 L646.18,763.36 L646.97,763.50 L647.76,763.63 L648.56,763.77 L649.35,763.91 L650.15,764.05 L650.94,764.19 L651.74,764.32 L652.54,764.46 L653.34,764.60 L654.15,764.74 L654.95,764.87 L655.76,765.01 L656.56,765.15 L657.37,765.28 L658.18,765.42 L658.99,765.55 L659.80,765.69 L660.61,765.82 L661.43,765.96 L662.24,766.09 L663.06,766.23 L663.88,766.36 L664.70,766.50 L665.52,766.63 L666.34,766.77 L667.16,766.90 L667.99,767.03 L668.82,767.17 L669.64,767.30 L670.47,767.43 L671.30,767.56 L672.13,767.70 L672.97,767.83 L673.80,767.96 L674.64,768.09 L675.47,768.22 L676.31,768.35 L677.15,768.48 L677.99,768.62 L678.83,768.75 L679.68,768.88 L680.52,769.01 L681.37,769.14 L682.21,769.27 L683.06,769.40 L683.91,769.52 L684.76,769.65 L685.62,769.78 L686.47,769.91 L687.33,770.04 L688.18,770.17 L689.04,770.30 L689.90,770.42 L690.76,770.55 L691.63,770.68 L692.49,770.81 L693.36,770.93 L694.22,771.06 L695.09,771.19 L695.96,771.31 L696.83,771.44 L697.70,771.57 L698.58,771.69 L699.45,771.82 L700.33,771.94 L701.21,772.07 L702.09,772.19 L702.97,772.32 L703.85,772.44 L704.73,772.57 L705.62,772.69 L706.50,772.82 L707.39,772.94 L708.28,773.06 L709.17,773.19 L710.06,773.31 L710.96,773.43 L711.85,773.56 L712.75,773.68 L713.64,773.80 L714.54,773.92 L715.44,774.05 L716.35,774.17 L717.25,774.29 L718.15,774.41 L719.06,774.53 L719.97,774.65 L720.88,774.77 L721.79,774.89 L722.70,775.01 L723.61,775.14 L724.53,775.26 L725.45,775.38 L726.36,775.49 L727.28,775.61 L728.20,775.73 L729.13,775.85 L730.05,775.97 L730.98,776.09 L731.90,776.21 L732.83,776.33 L733.76,776.45 L734.69,776.56 L735.63,776.68 L736.56,776.80 L737.50,776.92 L738.43,777.03 L739.37,777.15 L740.31,777.27 L741.25,777.39 L742.20,777.50 L743.14,777.62 L744.09,777.73 L745.04,777.85 L745.99,777.97 L746.94,778.08 L747.89,778.20 L748.84,778.31 L749.80,778.43 L750.76,778.54 L751.72,778.66 L752.68,778.77 L753.64,778.89 L754.60,779.00 L1055.90,779.00" fill="none" stroke="#EDB120" stroke-width="4.0" stroke-linejoin="round"/><path d="M273.83,66.00 L273.96,67.25 L274.09,68.51 L274.22,69.75 L274.35,71.00 L274.49,72.25 L274.62,73.49 L274.75,74.73 L274.88,75.97 L275.01,77.21 L275.14,78.45 L275.27,79.68 L275.40,80.91 L275.53,82.14 L275.67,83.37 L275.80,84.60 L275.93,85.82 L276.06,87.04 L276.19,88.26 L276.33,89.48 L276.46,90.70 L276.59,91.91 L276.73,93.12 L276.86,94.33 L276.99,95.54 L277.13,96.75 L277.26,97.95 L277.39,99.15 L277.53,100.35 L277.66,101.55 L277.79,102.75 L277.93,103.94 L278.06,105.14 L278.20,106.33 L278.33,107.52 L278.47,108.70 L278.60,109.89 L278.74,111.07 L278.87,112.26 L279.01,113.43 L279.14,114.61 L279.28,115.79 L279.41,116.96 L279.55,118.13 L279.69,119.31 L279.82,120.47 L279.96,121.64 L280.10,122.80 L280.23,123.97 L280.37,125.13 L280.51,126.29 L280.64,127.44 L280.78,128.60 L280.92,129.75 L281.06,130.91 L281.19,132.06 L281.33,133.20 L281.47,134.35 L281.61,135.49 L281.75,136.64 L281.88,137.78 L282.02,138.92 L282.16,140.05 L282.30,141.19 L282.44,142.32 L282.58,143.45 L282.72,144.58 L282.86,145.71 L283.00,146.84 L283.14,147.96 L283.28,149.08 L283.42,150.21 L283.56,151.32 L283.70,152.44 L283.84,153.56 L283.98,154.67 L284.12,155.78 L284.26,156.89 L284.40,158.00 L284.54,159.11 L284.68,160.21 L284.83,161.32 L284.97,162.42 L285.11,163.52 L285.25,164.61 L285.39,165.71 L285.54,166.80 L285.68,167.90 L285.82,168.99 L285.96,170.08 L286.11,171.16 L286.25,172.25 L286.39,173.33 L286.54,174.42 L286.68,175.50 L286.82,176.57 L286.97,177.65 L287.11,178.73 L287.26,179.80 L287.40,180.87 L287.54,181.94 L287.69,183.01 L287.83,184.08 L287.98,185.14 L288.12,186.20 L288.27,187.27 L288.41,188.33 L288.56,189.38 L288.71,190.44 L288.85,191.49 L289.00,192.55 L289.14,193.60 L289.29,194.65 L289.44,195.70 L289.58,196.74 L289.73,197.79 L289.88,198.83 L290.02,199.87 L290.17,200.91 L290.32,201.95 L290.47,202.99 L290.61,204.02 L290.76,205.05 L290.91,206.08 L291.06,207.11 L291.21,208.14 L291.36,209.17 L291.50,210.19 L291.65,211.22 L291.80,212.24 L291.95,213.26 L292.10,214.28 L292.25,215.29 L292.40,216.31 L292.55,217.32 L292.70,218.33 L292.85,219.34 L293.00,220.35 L293.15,221.36 L293.30,222.36 L293.45,223.37 L293.60,224.37 L293.75,225.37 L293.91,226.37 L294.06,227.37 L294.21,228.36 L294.36,229.36 L294.51,230.35 L294.66,231.34 L294.82,232.33 L294.97,233.32 L295.12,234.30 L295.27,235.29 L295.43,236.27 L295.58,237.25 L295.73,238.23 L295.89,239.21 L296.04,240.19 L296.19,241.16 L296.35,242.14 L296.50,243.11 L296.66,244.08 L296.81,245.05 L296.96,246.01 L297.12,246.98 L297.27,247.94 L297.43,248.91 L297.58,249.87 L297.74,250.83 L297.89,251.79 L298.05,252.74 L298.21,253.70 L298.36,254.65 L298.52,255.60 L298.67,256.55 L298.83,257.50 L298.99,258.45 L299.14,259.40 L299.30,260.34 L299.46,261.28 L299.62,262.23 L299.77,263.17 L299.93,264.10 L300.09,265.04 L300.25,265.98 L300.41,266.91 L300.56,267.84 L300.72,268.77 L300.88,269.70 L301.04,270.63 L301.20,271.56 L301.36,272.48 L301.52,273.41 L301.68,274.33 L301.84,275.25 L302.00,276.17 L302.16,277.09 L302.32,278.00 L302.48,278.92 L302.64,279.83 L302.80,280.74 L302.96,281.65 L303.12,282.56 L303.28,283.47 L303.44,284.38 L303.60,285.28 L303.77,286.18 L303.93,287.09 L304.09,287.99 L304.25,288.88 L304.42,289.78 L304.58,290.68 L304.74,291.57 L304.90,292.46 L305.07,293.36 L305.23,294.25 L305.39,295.14 L305.56,296.02 L305.72,296.91 L305.89,297.79 L306.05,298.68 L306.21,299.56 L306.38,300.44 L306.54,301.32 L306.71,302.19 L306.87,303.07 L307.04,303.95 L307.20,304.82 L307.37,305.69 L307.54,306.56 L307.70,307.43 L307.87,308.30 L308.03,309.16 L308.20,310.03 L308.37,310.89 L308.53,311.76 L308.70,312.62 L308.87,313.48 L309.04,314.33 L309.20,315.19 L309.37,316.05 L309.54,316.90 L309.71,317.75 L309.87,318.60 L310.04,319.45 L310.21,320.30 L310.38,321.15 L310.55,321.99 L310.72,322.84 L310.89,323.68 L311.06,324.52 L311.23,325.36 L311.40,326.20 L311.57,327.04 L311.74,327.88 L311.91,328.71 L312.08,329.55 L312.25,330.38 L312.42,331.21 L312.59,332.04 L312.76,332.87 L312.93,333.69 L313.11,334.52 L313.28,335.34 L313.45,336.17 L313.62,336.99 L313.80,337.81 L313.97,338.63 L314.14,339.45 L314.31,340.26 L314.49,341.08 L314.66,341.89 L314.83,342.71 L315.01,343.52 L315.18,344.33 L315.36,345.14 L315.53,345.94 L315.70,346.75 L315.88,347.55 L316.05,348.36 L316.23,349.16 L316.40,349.96 L316.58,350.76 L316.76,351.56 L316.93,352.36 L317.11,353.15 L317.28,353.95 L317.46,354.74 L317.64,355.53 L317.81,356.32 L317.99,357.11 L318.17,357.90 L318.34,358.69 L318.52,359.47 L318.70,360.26 L318.88,361.04 L319.06,361.82 L319.23,362.60 L319.41,363.38 L319.59,364.16 L319.77,364.94 L319.95,365.71 L320.13,366.49 L320.31,367.26 L320.49,368.03 L320.67,368.81 L320.85,369.58 L321.03,370.34 L321.21,371.11 L321.39,371.88 L321.57,372.64 L321.75,373.41 L321.93,374.17 L322.11,374.93 L322.29,375.69 L322.47,376.45 L322.66,377.20 L322.84,377.96 L323.02,378.72 L323.20,379.47 L323.39,380.22 L323.57,380.97 L323.75,381.72 L323.94,382.47 L324.12,383.22 L324.30,383.97 L324.49,384.71 L324.67,385.46 L324.85,386.20 L325.04,386.94 L325.22,387.68 L325.41,388.42 L325.59,389.16 L325.78,389.90 L325.96,390.63 L326.15,391.37 L326.34,392.10 L326.52,392.83 L326.71,393.56 L326.89,394.29 L327.08,395.02 L327.27,395.75 L327.45,396.48 L327.64,397.20 L327.83,397.93 L328.02,398.65 L328.20,399.37 L328.39,400.09 L328.58,400.81 L328.77,401.53 L328.96,402.25 L329.15,402.96 L329.34,403.68 L329.52,404.39 L329.71,405.11 L329.90,405.82 L330.09,406.53 L330.28,407.24 L330.47,407.95 L330.66,408.65 L330.86,409.36 L331.05,410.06 L331.24,410.77 L331.43,411.47 L331.62,412.17 L331.81,412.87 L332.00,413.57 L332.20,414.27 L332.39,414.97 L332.58,415.66 L332.77,416.36 L332.97,417.05 L333.16,417.74 L333.35,418.43 L333.55,419.12 L333.74,419.81 L333.93,420.50 L334.13,421.19 L334.32,421.87 L334.52,422.56 L334.71,423.24 L334.91,423.92 L335.10,424.61 L335.30,425.29 L335.49,425.97 L335.69,426.64 L335.88,427.32 L336.08,428.00 L336.28,428.67 L336.47,429.35 L336.67,430.02 L336.87,430.69 L337.06,431.36 L337.26,432.03 L337.46,432.70 L337.66,433.37 L337.86,434.03 L338.05,434.70 L338.25,435.36 L338.45,436.03 L338.65,436.69 L338.85,437.35 L339.05,438.01 L339.25,438.67 L339.45,439.33 L339.65,439.98 L339.85,440.64 L340.05,441.29 L340.25,441.95 L340.45,442.60 L340.65,443.25 L340.85,443.90 L341.05,444.55 L341.26,445.20 L341.46,445.85 L341.66,446.50 L341.86,447.14 L342.06,447.79 L342.27,448.43 L342.47,449.07 L342.67,449.71 L342.88,450.35 L343.08,450.99 L343.28,451.63 L343.49,452.27 L343.69,452.90 L343.90,453.54 L344.10,454.17 L344.31,454.81 L344.51,455.44 L344.72,456.07 L344.92,456.70 L345.13,457.33 L345.34,457.96 L345.54,458.58 L345.75,459.21 L345.95,459.83 L346.16,460.46 L346.37,461.08 L346.58,461.70 L346.78,462.33 L346.99,462.95 L347.20,463.56 L347.41,464.18 L347.62,464.80 L347.83,465.42 L348.03,466.03 L348.24,466.65 L348.45,467.26 L348.66,467.87 L348.87,468.48 L349.08,469.09 L349.29,469.70 L349.50,470.31 L349.71,470.92 L349.92,471.52 L350.14,472.13 L350.35,472.73 L350.56,473.34 L350.77,473.94 L350.98,474.54 L351.20,475.14 L351.41,475.74 L351.62,476.34 L351.83,476.94 L352.05,477.54 L352.26,478.13 L352.47,478.73 L352.69,479.32 L352.90,479.91 L353.12,480.50 L353.33,481.10 L353.55,481.69 L353.76,482.28 L353.98,482.86 L354.19,483.45 L354.41,484.04 L354.62,484.62 L354.84,485.21 L355.06,485.79 L355.27,486.37 L355.49,486.95 L355.71,487.54 L355.92,488.12 L356.14,488.69 L356.36,489.27 L356.58,489.85 L356.80,490.43 L357.01,491.00 L357.23,491.57 L357.45,492.15 L357.67,492.72 L357.89,493.29 L358.11,493.86 L358.33,494.43 L358.55,495.00 L358.77,495.57 L358.99,496.14 L359.21,496.70 L359.43,497.27 L359.65,497.83 L359.88,498.40 L360.10,498.96 L360.32,499.52 L360.54,500.08 L360.77,500.64 L360.99,501.20 L361.21,501.76 L361.43,502.31 L361.66,502.87 L361.88,503.43 L362.11,503.98 L362.33,504.53 L362.55,505.09 L362.78,505.64 L363.00,506.19 L363.23,506.74 L363.45,507.29 L363.68,507.84 L363.91,508.38 L364.13,508.93 L364.36,509.48 L364.58,510.02 L364.81,510.56 L365.04,511.11 L365.27,511.65 L365.49,512.19 L365.72,512.73 L365.95,513.27 L366.18,513.81 L366.41,514.35 L366.63,514.88 L366.86,515.42 L367.09,515.96 L367.32,516.49 L367.55,517.02 L367.78,517.56 L368.01,518.09 L368.24,518.62 L368.47,519.15 L368.70,519.68 L368.94,520.21 L369.17,520.73 L369.40,521.26 L369.63,521.79 L369.86,522.31 L370.10,522.84 L370.33,523.36 L370.56,523.88 L370.79,524.40 L371.03,524.93 L371.26,525.45 L371.50,525.96 L371.73,526.48 L371.96,527.00 L372.20,527.52 L372.43,528.03 L372.67,528.55 L372.90,529.06 L373.14,529.58 L373.38,530.09 L373.61,530.60 L373.85,531.11 L374.09,531.62 L374.32,532.13 L374.56,532.64 L374.80,533.15 L375.04,533.65 L375.27,534.16 L375.51,534.67 L375.75,535.17 L375.99,535.67 L376.23,536.18 L376.47,536.68 L376.71,537.18 L376.95,537.68 L377.19,538.18 L377.43,538.68 L377.67,539.18 L377.91,539.67 L378.15,540.17 L378.39,540.67 L378.63,541.16 L378.87,541.66 L379.12,542.15 L379.36,542.64 L379.60,543.13 L379.84,543.62 L380.09,544.11 L380.33,544.60 L380.57,545.09 L380.82,545.58 L381.06,546.07 L381.31,546.55 L381.55,547.04 L381.80,547.52 L382.04,548.01 L382.29,548.49 L382.53,548.97 L382.78,549.46 L383.02,549.94 L383.27,550.42 L383.52,550.90 L383.76,551.37 L384.01,551.85 L384.26,552.33 L384.51,552.81 L384.76,553.28 L385.00,553.76 L385.25,554.23 L385.50,554.70 L385.75,555.18 L386.00,555.65 L386.25,556.12 L386.50,556.59 L386.75,557.06 L387.00,557.53 L387.25,557.99 L387.50,558.46 L387.75,558.93 L388.00,559.39 L388.26,559.86 L388.51,560.32 L388.76,560.79 L389.01,561.25 L389.27,561.71 L389.52,562.17 L389.77,562.63 L390.03,563.09 L390.28,563.55 L390.53,564.01 L390.79,564.47 L391.04,564.92 L391.30,565.38 L391.55,565.84 L391.81,566.29 L392.07,566.75 L392.32,567.20 L392.58,567.65 L392.84,568.10 L393.09,568.55 L393.35,569.00 L393.61,569.45 L393.86,569.90 L394.12,570.35 L394.38,570.80 L394.64,571.24 L394.90,571.69 L395.16,572.14 L395.42,572.58 L395.68,573.02 L395.94,573.47 L396.20,573.91 L396.46,574.35 L396.72,574.79 L396.98,575.23 L397.24,575.67 L397.50,576.11 L397.76,576.55 L398.03,576.99 L398.29,577.42 L398.55,577.86 L398.82,578.30 L399.08,578.73 L399.34,579.17 L399.61,579.60 L399.87,580.03 L400.14,580.46 L400.40,580.89 L400.66,581.33 L400.93,581.76 L401.20,582.18 L401.46,582.61 L401.73,583.04 L401.99,583.47 L402.26,583.89 L402.53,584.32 L402.80,584.75 L403.06,585.17 L403.33,585.59 L403.60,586.02 L403.87,586.44 L404.14,586.86 L404.41,587.28 L404.67,587.70 L404.94,588.12 L405.21,588.54 L405.48,588.96 L405.75,589.38 L406.03,589.79 L406.30,590.21 L406.57,590.63 L406.84,591.04 L407.11,591.46 L407.38,591.87 L407.66,592.28 L407.93,592.70 L408.20,593.11 L408.48,593.52 L408.75,593.93 L409.02,594.34 L409.30,594.75 L409.57,595.16 L409.85,595.56 L410.12,595.97 L410.40,596.38 L410.67,596.78 L410.95,597.19 L411.23,597.59 L411.50,598.00 L411.78,598.40 L412.06,598.80 L412.33,599.21 L412.61,599.61 L412.89,600.01 L413.17,600.41 L413.45,600.81 L413.73,601.21 L414.00,601.60 L414.28,602.00 L414.56,602.40 L414.84,602.79 L415.12,603.19 L415.41,603.58 L415.69,603.98 L415.97,604.37 L416.25,604.77 L416.53,605.16 L416.81,605.55 L417.10,605.94 L417.38,606.33 L417.66,606.72 L417.95,607.11 L418.23,607.50 L418.51,607.89 L418.80,608.28 L419.08,608.66 L419.37,609.05 L419.65,609.43 L419.94,609.82 L420.22,610.20 L420.51,610.59 L420.80,610.97 L421.08,611.35 L421.37,611.73 L421.66,612.12 L421.95,612.50 L422.23,612.88 L422.52,613.26 L422.81,613.64 L423.10,614.01 L423.39,614.39 L423.68,614.77 L423.97,615.14 L424.26,615.52 L424.55,615.90 L424.84,616.27 L425.13,616.64 L425.42,617.02 L425.71,617.39 L426.01,617.76 L426.30,618.14 L426.59,618.51 L426.88,618.88 L427.18,619.25 L427.47,619.62 L427.77,619.98 L428.06,620.35 L428.35,620.72 L428.65,621.09 L428.94,621.45 L429.24,621.82 L429.54,622.18 L429.83,622.55 L430.13,622.91 L430.43,623.28 L430.72,623.64 L431.02,624.00 L431.32,624.36 L431.62,624.72 L431.91,625.09 L432.21,625.45 L432.51,625.80 L432.81,626.16 L433.11,626.52 L433.41,626.88 L433.71,627.24 L434.01,627.59 L434.31,627.95 L434.61,628.30 L434.91,628.66 L435.22,629.01 L435.52,629.37 L435.82,629.72 L436.12,630.07 L436.43,630.42 L436.73,630.78 L437.03,631.13 L437.34,631.48 L437.64,631.83 L437.95,632.18 L438.25,632.53 L438.56,632.87 L438.86,633.22 L439.17,633.57 L439.48,633.91 L439.78,634.26 L440.09,634.61 L440.40,634.95 L440.71,635.29 L441.01,635.64 L441.32,635.98 L441.63,636.32 L441.94,636.67 L442.25,637.01 L442.56,637.35 L442.87,637.69 L443.18,638.03 L443.49,638.37 L443.80,638.71 L444.11,639.04 L444.42,639.38 L444.74,639.72 L445.05,640.06 L445.36,640.39 L445.67,640.73 L445.99,641.06 L446.30,641.40 L446.62,641.73 L446.93,642.06 L447.24,642.40 L447.56,642.73 L447.87,643.06 L448.19,643.39 L448.51,643.72 L448.82,644.05 L449.14,644.38 L449.46,644.71 L449.77,645.04 L450.09,645.37 L450.41,645.70 L450.73,646.02 L451.05,646.35 L451.37,646.68 L451.69,647.00 L452.01,647.33 L452.33,647.65 L452.65,647.97 L452.97,648.30 L453.29,648.62 L453.61,648.94 L453.93,649.27 L454.25,649.59 L454.58,649.91 L454.90,650.23 L455.22,650.55 L455.55,650.87 L455.87,651.19 L456.19,651.50 L456.52,651.82 L456.84,652.14 L457.17,652.46 L457.49,652.77 L457.82,653.09 L458.15,653.40 L458.47,653.72 L458.80,654.03 L459.13,654.35 L459.45,654.66 L459.78,654.97 L460.11,655.28 L460.44,655.60 L460.77,655.91 L461.10,656.22 L461.43,656.53 L461.76,656.84 L462.09,657.15 L462.42,657.45 L462.75,657.76 L463.08,658.07 L463.41,658.38 L463.75,658.68 L464.08,658.99 L464.41,659.30 L464.75,659.60 L465.08,659.91 L465.41,660.21 L465.75,660.52 L466.08,660.82 L466.42,661.12 L466.75,661.42 L467.09,661.73 L467.43,662.03 L467.76,662.33 L468.10,662.63 L468.44,662.93 L468.77,663.23 L469.11,663.53 L469.45,663.83 L469.79,664.12 L470.13,664.42 L470.47,664.72 L470.81,665.01 L471.15,665.31 L471.49,665.61 L471.83,665.90 L472.17,666.20 L472.51,666.49 L472.85,666.78 L473.20,667.08 L473.54,667.37 L473.88,667.66 L474.23,667.96 L474.57,668.25 L474.91,668.54 L475.26,668.83 L475.60,669.12 L475.95,669.41 L476.29,669.70 L476.64,669.99 L476.99,670.27 L477.33,670.56 L477.68,670.85 L478.03,671.14 L478.38,671.42 L478.72,671.71 L479.07,671.99 L479.42,672.28 L479.77,672.56 L480.12,672.85 L480.47,673.13 L480.82,673.41 L481.17,673.70 L481.52,673.98 L481.87,674.26 L482.23,674.54 L482.58,674.82 L482.93,675.10 L483.29,675.38 L483.64,675.66 L483.99,675.94 L484.35,676.22 L484.70,676.50 L485.06,676.78 L485.41,677.05 L485.77,677.33 L486.12,677.61 L486.48,677.88 L486.84,678.16 L487.19,678.43 L487.55,678.71 L487.91,678.98 L488.27,679.26 L488.63,679.53 L488.99,679.80 L489.35,680.08 L489.71,680.35 L490.07,680.62 L490.43,680.89 L490.79,681.16 L491.15,681.43 L491.51,681.70 L491.87,681.97 L492.24,682.24 L492.60,682.51 L492.96,682.78 L493.33,683.05 L493.69,683.31 L494.06,683.58 L494.42,683.85 L494.79,684.11 L495.15,684.38 L495.52,684.64 L495.88,684.91 L496.25,685.17 L496.62,685.44 L496.99,685.70 L497.35,685.96 L497.72,686.23 L498.09,686.49 L498.46,686.75 L498.83,687.01 L499.20,687.27 L499.57,687.53 L499.94,687.79 L500.31,688.05 L500.68,688.31 L501.06,688.57 L501.43,688.83 L501.80,689.09 L502.18,689.34 L502.55,689.60 L502.92,689.86 L503.30,690.12 L503.67,690.37 L504.05,690.63 L504.42,690.88 L504.80,691.14 L505.18,691.39 L505.55,691.65 L505.93,691.90 L506.31,692.15 L506.69,692.41 L507.06,692.66 L507.44,692.91 L507.82,693.16 L508.20,693.41 L508.58,693.66 L508.96,693.91 L509.34,694.16 L509.72,694.41 L510.11,694.66 L510.49,694.91 L510.87,695.16 L511.25,695.41 L511.64,695.65 L512.02,695.90 L512.41,696.15 L512.79,696.40 L513.17,696.64 L513.56,696.89 L513.95,697.13 L514.33,697.38 L514.72,697.62 L515.11,697.87 L515.49,698.11 L515.88,698.35 L516.27,698.60 L516.66,698.84 L517.05,699.08 L517.44,699.32 L517.83,699.56 L518.22,699.80 L518.61,700.04 L519.00,700.28 L519.39,700.52 L519.78,700.76 L520.17,701.00 L520.57,701.24 L520.96,701.48 L521.35,701.72 L521.75,701.95 L522.14,702.19 L522.54,702.43 L522.93,702.66 L523.33,702.90 L523.73,703.14 L524.12,703.37 L524.52,703.61 L524.92,703.84 L525.31,704.08 L525.71,704.31 L526.11,704.54 L526.51,704.78 L526.91,705.01 L527.31,705.24 L527.71,705.47 L528.11,705.70 L528.51,705.93 L528.91,706.17 L529.32,706.40 L529.72,706.63 L530.12,706.86 L530.53,707.08 L530.93,707.31 L531.33,707.54 L531.74,707.77 L532.14,708.00 L532.55,708.23 L532.96,708.45 L533.36,708.68 L533.77,708.91 L534.18,709.13 L534.58,709.36 L534.99,709.58 L535.40,709.81 L535.81,710.03 L536.22,710.26 L536.63,710.48 L537.04,710.70 L537.45,710.93 L537.86,711.15 L538.27,711.37 L538.69,711.59 L539.10,711.82 L539.51,712.04 L539.93,712.26 L540.34,712.48 L540.75,712.70 L541.17,712.92 L541.58,713.14 L542.00,713.36 L542.42,713.58 L542.83,713.80 L543.25,714.01 L543.67,714.23 L544.08,714.45 L544.50,714.67 L544.92,714.88 L545.34,715.10 L545.76,715.32 L546.18,715.53 L546.60,715.75 L547.02,715.96 L547.44,716.18 L547.87,716.39 L548.29,716.60 L548.71,716.82 L549.13,717.03 L549.56,717.24 L549.98,717.46 L550.41,717.67 L550.83,717.88 L551.26,718.09 L551.68,718.30 L552.11,718.52 L552.54,718.73 L552.96,718.94 L553.39,719.15 L553.82,719.36 L554.25,719.57 L554.68,719.77 L555.11,719.98 L555.54,720.19 L555.97,720.40 L556.40,720.61 L556.83,720.81 L557.26,721.02 L557.70,721.23 L558.13,721.43 L558.56,721.64 L559.00,721.85 L559.43,722.05 L559.86,722.26 L560.30,722.46 L560.74,722.67 L561.17,722.87 L561.61,723.07 L562.05,723.28 L562.48,723.48 L562.92,723.68 L563.36,723.88 L563.80,724.09 L564.24,724.29 L564.68,724.49 L565.12,724.69 L565.56,724.89 L566.00,725.09 L566.44,725.29 L566.88,725.49 L567.33,725.69 L567.77,725.89 L568.21,726.09 L568.66,726.29 L569.10,726.49 L569.55,726.68 L569.99,726.88 L570.44,727.08 L570.89,727.28 L571.33,727.47 L571.78,727.67 L572.23,727.86 L572.68,728.06 L573.12,728.26 L573.57,728.45 L574.02,728.65 L574.47,728.84 L574.92,729.03 L575.38,729.23 L575.83,729.42 L576.28,729.61 L576.73,729.81 L577.19,730.00 L577.64,730.19 L578.09,730.38 L578.55,730.58 L579.00,730.77 L579.46,730.96 L579.92,731.15 L580.37,731.34 L580.83,731.53 L581.29,731.72 L581.74,731.91 L582.20,732.10 L582.66,732.29 L583.12,732.48 L583.58,732.66 L584.04,732.85 L584.50,733.04 L584.96,733.23 L585.43,733.41 L585.89,733.60 L586.35,733.79 L586.82,733.97 L587.28,734.16 L587.74,734.35 L588.21,734.53 L588.67,734.72 L589.14,734.90 L589.61,735.09 L590.07,735.27 L590.54,735.45 L591.01,735.64 L591.48,735.82 L591.95,736.00 L592.42,736.19 L592.89,736.37 L593.36,736.55 L593.83,736.73 L594.30,736.91 L594.77,737.10 L595.24,737.28 L595.72,737.46 L596.19,737.64 L596.66,737.82 L597.14,738.00 L597.61,738.18 L598.09,738.36 L598.56,738.53 L599.04,738.71 L599.52,738.89 L600.00,739.07 L600.47,739.25 L600.95,739.43 L601.43,739.60 L601.91,739.78 L602.39,739.96 L602.87,740.13 L603.35,740.31 L603.83,740.48 L604.32,740.66 L604.80,740.83 L605.28,741.01 L605.77,741.18 L606.25,741.36 L606.73,741.53 L607.22,741.71 L607.71,741.88 L608.19,742.05 L608.68,742.23 L609.17,742.40 L609.65,742.57 L610.14,742.74 L610.63,742.92 L611.12,743.09 L611.61,743.26 L612.10,743.43 L612.59,743.60 L613.08,743.77 L613.57,743.94 L614.07,744.11 L614.56,744.28 L615.05,744.45 L615.55,744.62 L616.04,744.79 L616.54,744.96 L617.03,745.13 L617.53,745.29 L618.03,745.46 L618.52,745.63 L619.02,745.80 L619.52,745.96 L620.02,746.13 L620.52,746.30 L621.02,746.46 L621.52,746.63 L622.02,746.80 L622.52,746.96 L623.02,747.13 L623.52,747.29 L624.03,747.46 L624.53,747.62 L625.04,747.78 L625.54,747.95 L626.05,748.11 L626.55,748.27 L627.06,748.44 L627.56,748.60 L628.07,748.76 L628.58,748.93 L629.09,749.09 L629.60,749.25 L630.11,749.41 L630.62,749.57 L631.13,749.73 L631.64,749.89 L632.15,750.05 L632.66,750.21 L633.18,750.37 L633.69,750.53 L634.20,750.69 L634.72,750.85 L635.23,751.01 L635.75,751.17 L636.27,751.33 L636.78,751.49 L637.30,751.65 L637.82,751.80 L638.34,751.96 L638.85,752.12 L639.37,752.27 L639.89,752.43 L640.41,752.59 L640.94,752.74 L641.46,752.90 L641.98,753.06 L642.50,753.21 L643.03,753.37 L643.55,753.52 L644.07,753.68 L644.60,753.83 L645.12,753.98 L645.65,754.14 L646.18,754.29 L646.71,754.45 L647.23,754.60 L647.76,754.75 L648.29,754.90 L648.82,755.06 L649.35,755.21 L649.88,755.36 L650.41,755.51 L650.94,755.66 L651.48,755.82 L652.01,755.97 L652.54,756.12 L653.08,756.27 L653.61,756.42 L654.15,756.57 L654.68,756.72 L655.22,756.87 L655.76,757.02 L656.29,757.17 L656.83,757.31 L657.37,757.46 L657.91,757.61 L658.45,757.76 L658.99,757.91 L659.53,758.06 L660.07,758.20 L660.61,758.35 L661.16,758.50 L661.70,758.64 L662.24,758.79 L662.79,758.94 L663.33,759.08 L663.88,759.23 L664.43,759.37 L664.97,759.52 L665.52,759.66 L666.07,759.81 L666.62,759.95 L667.16,760.10 L667.71,760.24 L668.26,760.39 L668.82,760.53 L669.37,760.67 L669.92,760.82 L670.47,760.96 L671.02,761.10 L671.58,761.25 L672.13,761.39 L672.69,761.53 L673.24,761.67 L673.80,761.81 L674.36,761.95 L674.91,762.10 L675.47,762.24 L676.03,762.38 L676.59,762.52 L677.15,762.66 L677.71,762.80 L678.27,762.94 L678.83,763.08 L679.39,763.22 L679.96,763.36 L680.52,763.50 L681.08,763.63 L681.65,763.77 L682.21,763.91 L682.78,764.05 L683.35,764.19 L683.91,764.32 L684.48,764.46 L685.05,764.60 L685.62,764.74 L686.19,764.87 L686.76,765.01 L687.33,765.15 L687.90,765.28 L688.47,765.42 L689.04,765.55 L689.62,765.69 L690.19,765.82 L690.76,765.96 L691.34,766.09 L691.91,766.23 L692.49,766.36 L693.07,766.50 L693.64,766.63 L694.22,766.77 L694.80,766.90 L695.38,767.03 L695.96,767.17 L696.54,767.30 L697.12,767.43 L697.70,767.56 L698.29,767.70 L698.87,767.83 L699.45,767.96 L700.04,768.09 L700.62,768.22 L701.21,768.35 L701.79,768.48 L702.38,768.62 L702.97,768.75 L703.55,768.88 L704.14,769.01 L704.73,769.14 L705.32,769.27 L705.91,769.40 L706.50,769.52 L707.09,769.65 L707.69,769.78 L708.28,769.91 L708.87,770.04 L709.47,770.17 L710.06,770.30 L710.66,770.42 L711.25,770.55 L711.85,770.68 L712.45,770.81 L713.05,770.93 L713.64,771.06 L714.24,771.19 L714.84,771.31 L715.44,771.44 L716.05,771.57 L716.65,771.69 L717.25,771.82 L717.85,771.94 L718.46,772.07 L719.06,772.19 L719.67,772.32 L720.27,772.44 L720.88,772.57 L721.48,772.69 L722.09,772.82 L722.70,772.94 L723.31,773.06 L723.92,773.19 L724.53,773.31 L725.14,773.43 L725.75,773.56 L726.36,773.68 L726.98,773.80 L727.59,773.92 L728.20,774.05 L728.82,774.17 L729.44,774.29 L730.05,774.41 L730.67,774.53 L731.29,774.65 L731.90,774.77 L732.52,774.89 L733.14,775.01 L733.76,775.14 L734.38,775.26 L735.00,775.38 L735.63,775.49 L736.25,775.61 L736.87,775.73 L737.50,775.85 L738.12,775.97 L738.75,776.09 L739.37,776.21 L740.00,776.33 L740.63,776.45 L741.25,776.56 L741.88,776.68 L742.51,776.80 L743.14,776.92 L743.77,777.03 L744.41,777.15 L745.04,777.27 L745.67,777.39 L746.30,777.50 L746.94,777.62 L747.57,777.73 L748.21,777.85 L748.84,777.97 L749.48,778.08 L750.12,778.20 L750.76,778.31 L751.40,778.43 L752.03,778.54 L752.68,778.66 L753.32,778.77 L753.96,778.89 L754.60,779.00 L1055.90,779.00" fill="none" stroke="#7E2F8E" stroke-width="4.0" stroke-dasharray="16 16" stroke-linejoin="round"/><path d="M333.69,66.00 L333.84,67.25 L333.98,68.51 L334.13,69.75 L334.27,71.00 L334.42,72.25 L334.56,73.49 L334.71,74.73 L334.86,75.97 L335.00,77.21 L335.15,78.45 L335.30,79.68 L335.44,80.91 L335.59,82.14 L335.74,83.37 L335.88,84.60 L336.03,85.82 L336.18,87.04 L336.33,88.26 L336.47,89.48 L336.62,90.70 L336.77,91.91 L336.92,93.12 L337.06,94.33 L337.21,95.54 L337.36,96.75 L337.51,97.95 L337.66,99.15 L337.81,100.35 L337.95,101.55 L338.10,102.75 L338.25,103.94 L338.40,105.14 L338.55,106.33 L338.70,107.52 L338.85,108.70 L339.00,109.89 L339.15,111.07 L339.30,112.26 L339.45,113.43 L339.60,114.61 L339.75,115.79 L339.90,116.96 L340.05,118.13 L340.20,119.31 L340.35,120.47 L340.50,121.64 L340.65,122.80 L340.80,123.97 L340.95,125.13 L341.10,126.29 L341.26,127.44 L341.41,128.60 L341.56,129.75 L341.71,130.91 L341.86,132.06 L342.01,133.20 L342.17,134.35 L342.32,135.49 L342.47,136.64 L342.62,137.78 L342.78,138.92 L342.93,140.05 L343.08,141.19 L343.23,142.32 L343.39,143.45 L343.54,144.58 L343.69,145.71 L343.85,146.84 L344.00,147.96 L344.15,149.08 L344.31,150.21 L344.46,151.32 L344.62,152.44 L344.77,153.56 L344.92,154.67 L345.08,155.78 L345.23,156.89 L345.39,158.00 L345.54,159.11 L345.70,160.21 L345.85,161.32 L346.01,162.42 L346.16,163.52 L346.32,164.61 L346.47,165.71 L346.63,166.80 L346.78,167.90 L346.94,168.99 L347.10,170.08 L347.25,171.16 L347.41,172.25 L347.56,173.33 L347.72,174.42 L347.88,175.50 L348.03,176.57 L348.19,177.65 L348.35,178.73 L348.51,179.80 L348.66,180.87 L348.82,181.94 L348.98,183.01 L349.14,184.08 L349.29,185.14 L349.45,186.20 L349.61,187.27 L349.77,188.33 L349.92,189.38 L350.08,190.44 L350.24,191.49 L350.40,192.55 L350.56,193.60 L350.72,194.65 L350.88,195.70 L351.04,196.74 L351.20,197.79 L351.35,198.83 L351.51,199.87 L351.67,200.91 L351.83,201.95 L351.99,202.99 L352.15,204.02 L352.31,205.05 L352.47,206.08 L352.63,207.11 L352.80,208.14 L352.96,209.17 L353.12,210.19 L353.28,211.22 L353.44,212.24 L353.60,213.26 L353.76,214.28 L353.92,215.29 L354.08,216.31 L354.25,217.32 L354.41,218.33 L354.57,219.34 L354.73,220.35 L354.89,221.36 L355.06,222.36 L355.22,223.37 L355.38,224.37 L355.54,225.37 L355.71,226.37 L355.87,227.37 L356.03,228.36 L356.20,229.36 L356.36,230.35 L356.52,231.34 L356.69,232.33 L356.85,233.32 L357.01,234.30 L357.18,235.29 L357.34,236.27 L357.51,237.25 L357.67,238.23 L357.84,239.21 L358.00,240.19 L358.17,241.16 L358.33,242.14 L358.50,243.11 L358.66,244.08 L358.83,245.05 L358.99,246.01 L359.16,246.98 L359.32,247.94 L359.49,248.91 L359.65,249.87 L359.82,250.83 L359.99,251.79 L360.15,252.74 L360.32,253.70 L360.49,254.65 L360.65,255.60 L360.82,256.55 L360.99,257.50 L361.16,258.45 L361.32,259.40 L361.49,260.34 L361.66,261.28 L361.83,262.23 L361.99,263.17 L362.16,264.10 L362.33,265.04 L362.50,265.98 L362.67,266.91 L362.83,267.84 L363.00,268.77 L363.17,269.70 L363.34,270.63 L363.51,271.56 L363.68,272.48 L363.85,273.41 L364.02,274.33 L364.19,275.25 L364.36,276.17 L364.53,277.09 L364.70,278.00 L364.87,278.92 L365.04,279.83 L365.21,280.74 L365.38,281.65 L365.55,282.56 L365.72,283.47 L365.89,284.38 L366.06,285.28 L366.23,286.18 L366.41,287.09 L366.58,287.99 L366.75,288.88 L366.92,289.78 L367.09,290.68 L367.27,291.57 L367.44,292.46 L367.61,293.36 L367.78,294.25 L367.95,295.14 L368.13,296.02 L368.30,296.91 L368.47,297.79 L368.65,298.68 L368.82,299.56 L368.99,300.44 L369.17,301.32 L369.34,302.19 L369.52,303.07 L369.69,303.95 L369.86,304.82 L370.04,305.69 L370.21,306.56 L370.39,307.43 L370.56,308.30 L370.74,309.16 L370.91,310.03 L371.09,310.89 L371.26,311.76 L371.44,312.62 L371.61,313.48 L371.79,314.33 L371.96,315.19 L372.14,316.05 L372.32,316.90 L372.49,317.75 L372.67,318.60 L372.85,319.45 L373.02,320.30 L373.20,321.15 L373.38,321.99 L373.55,322.84 L373.73,323.68 L373.91,324.52 L374.09,325.36 L374.26,326.20 L374.44,327.04 L374.62,327.88 L374.80,328.71 L374.98,329.55 L375.15,330.38 L375.33,331.21 L375.51,332.04 L375.69,332.87 L375.87,333.69 L376.05,334.52 L376.23,335.34 L376.41,336.17 L376.59,336.99 L376.77,337.81 L376.95,338.63 L377.13,339.45 L377.31,340.26 L377.49,341.08 L377.67,341.89 L377.85,342.71 L378.03,343.52 L378.21,344.33 L378.39,345.14 L378.57,345.94 L378.75,346.75 L378.93,347.55 L379.12,348.36 L379.30,349.16 L379.48,349.96 L379.66,350.76 L379.84,351.56 L380.03,352.36 L380.21,353.15 L380.39,353.95 L380.57,354.74 L380.76,355.53 L380.94,356.32 L381.12,357.11 L381.31,357.90 L381.49,358.69 L381.67,359.47 L381.86,360.26 L382.04,361.04 L382.22,361.82 L382.41,362.60 L382.59,363.38 L382.78,364.16 L382.96,364.94 L383.15,365.71 L383.33,366.49 L383.52,367.26 L383.70,368.03 L383.89,368.81 L384.07,369.58 L384.26,370.34 L384.45,371.11 L384.63,371.88 L384.82,372.64 L385.00,373.41 L385.19,374.17 L385.38,374.93 L385.56,375.69 L385.75,376.45 L385.94,377.20 L386.12,377.96 L386.31,378.72 L386.50,379.47 L386.69,380.22 L386.87,380.97 L387.06,381.72 L387.25,382.47 L387.44,383.22 L387.63,383.97 L387.82,384.71 L388.00,385.46 L388.19,386.20 L388.38,386.94 L388.57,387.68 L388.76,388.42 L388.95,389.16 L389.14,389.90 L389.33,390.63 L389.52,391.37 L389.71,392.10 L389.90,392.83 L390.09,393.56 L390.28,394.29 L390.47,395.02 L390.66,395.75 L390.85,396.48 L391.04,397.20 L391.24,397.93 L391.43,398.65 L391.62,399.37 L391.81,400.09 L392.00,400.81 L392.19,401.53 L392.39,402.25 L392.58,402.96 L392.77,403.68 L392.96,404.39 L393.16,405.11 L393.35,405.82 L393.54,406.53 L393.74,407.24 L393.93,407.95 L394.12,408.65 L394.32,409.36 L394.51,410.06 L394.70,410.77 L394.90,411.47 L395.09,412.17 L395.29,412.87 L395.48,413.57 L395.68,414.27 L395.87,414.97 L396.07,415.66 L396.26,416.36 L396.46,417.05 L396.65,417.74 L396.85,418.43 L397.05,419.12 L397.24,419.81 L397.44,420.50 L397.63,421.19 L397.83,421.87 L398.03,422.56 L398.22,423.24 L398.42,423.92 L398.62,424.61 L398.82,425.29 L399.01,425.97 L399.21,426.64 L399.41,427.32 L399.61,428.00 L399.80,428.67 L400.00,429.35 L400.20,430.02 L400.40,430.69 L400.60,431.36 L400.80,432.03 L401.00,432.70 L401.20,433.37 L401.40,434.03 L401.59,434.70 L401.79,435.36 L401.99,436.03 L402.19,436.69 L402.39,437.35 L402.60,438.01 L402.80,438.67 L403.00,439.33 L403.20,439.98 L403.40,440.64 L403.60,441.29 L403.80,441.95 L404.00,442.60 L404.20,443.25 L404.41,443.90 L404.61,444.55 L404.81,445.20 L405.01,445.85 L405.21,446.50 L405.42,447.14 L405.62,447.79 L405.82,448.43 L406.03,449.07 L406.23,449.71 L406.43,450.35 L406.64,450.99 L406.84,451.63 L407.04,452.27 L407.25,452.90 L407.45,453.54 L407.66,454.17 L407.86,454.81 L408.07,455.44 L408.27,456.07 L408.48,456.70 L408.68,457.33 L408.89,457.96 L409.09,458.58 L409.30,459.21 L409.50,459.83 L409.71,460.46 L409.92,461.08 L410.12,461.70 L410.33,462.33 L410.54,462.95 L410.74,463.56 L410.95,464.18 L411.16,464.80 L411.36,465.42 L411.57,466.03 L411.78,466.65 L411.99,467.26 L412.19,467.87 L412.40,468.48 L412.61,469.09 L412.82,469.70 L413.03,470.31 L413.24,470.92 L413.45,471.52 L413.66,472.13 L413.86,472.73 L414.07,473.34 L414.28,473.94 L414.49,474.54 L414.70,475.14 L414.91,475.74 L415.12,476.34 L415.34,476.94 L415.55,477.54 L415.76,478.13 L415.97,478.73 L416.18,479.32 L416.39,479.91 L416.60,480.50 L416.81,481.10 L417.03,481.69 L417.24,482.28 L417.45,482.86 L417.66,483.45 L417.87,484.04 L418.09,484.62 L418.30,485.21 L418.51,485.79 L418.73,486.37 L418.94,486.95 L419.15,487.54 L419.37,488.12 L419.58,488.69 L419.80,489.27 L420.01,489.85 L420.22,490.43 L420.44,491.00 L420.65,491.57 L420.87,492.15 L421.08,492.72 L421.30,493.29 L421.51,493.86 L421.73,494.43 L421.95,495.00 L422.16,495.57 L422.38,496.14 L422.59,496.70 L422.81,497.27 L423.03,497.83 L423.24,498.40 L423.46,498.96 L423.68,499.52 L423.90,500.08 L424.11,500.64 L424.33,501.20 L424.55,501.76 L424.77,502.31 L424.99,502.87 L425.20,503.43 L425.42,503.98 L425.64,504.53 L425.86,505.09 L426.08,505.64 L426.30,506.19 L426.52,506.74 L426.74,507.29 L426.96,507.84 L427.18,508.38 L427.40,508.93 L427.62,509.48 L427.84,510.02 L428.06,510.56 L428.28,511.11 L428.50,511.65 L428.72,512.19 L428.94,512.73 L429.17,513.27 L429.39,513.81 L429.61,514.35 L429.83,514.88 L430.05,515.42 L430.28,515.96 L430.50,516.49 L430.72,517.02 L430.95,517.56 L431.17,518.09 L431.39,518.62 L431.62,519.15 L431.84,519.68 L432.06,520.21 L432.29,520.73 L432.51,521.26 L432.74,521.79 L432.96,522.31 L433.19,522.84 L433.41,523.36 L433.64,523.88 L433.86,524.40 L434.09,524.93 L434.31,525.45 L434.54,525.96 L434.76,526.48 L434.99,527.00 L435.22,527.52 L435.44,528.03 L435.67,528.55 L435.90,529.06 L436.12,529.58 L436.35,530.09 L436.58,530.60 L436.81,531.11 L437.03,531.62 L437.26,532.13 L437.49,532.64 L437.72,533.15 L437.95,533.65 L438.18,534.16 L438.41,534.67 L438.64,535.17 L438.86,535.67 L439.09,536.18 L439.32,536.68 L439.55,537.18 L439.78,537.68 L440.01,538.18 L440.24,538.68 L440.48,539.18 L440.71,539.67 L440.94,540.17 L441.17,540.67 L441.40,541.16 L441.63,541.66 L441.86,542.15 L442.09,542.64 L442.33,543.13 L442.56,543.62 L442.79,544.11 L443.02,544.60 L443.26,545.09 L443.49,545.58 L443.72,546.07 L443.96,546.55 L444.19,547.04 L444.42,547.52 L444.66,548.01 L444.89,548.49 L445.13,548.97 L445.36,549.46 L445.60,549.94 L445.83,550.42 L446.07,550.90 L446.30,551.37 L446.54,551.85 L446.77,552.33 L447.01,552.81 L447.24,553.28 L447.48,553.76 L447.72,554.23 L447.95,554.70 L448.19,555.18 L448.43,555.65 L448.66,556.12 L448.90,556.59 L449.14,557.06 L449.38,557.53 L449.62,557.99 L449.85,558.46 L450.09,558.93 L450.33,559.39 L450.57,559.86 L450.81,560.32 L451.05,560.79 L451.29,561.25 L451.53,561.71 L451.77,562.17 L452.01,562.63 L452.25,563.09 L452.49,563.55 L452.73,564.01 L452.97,564.47 L453.21,564.92 L453.45,565.38 L453.69,565.84 L453.93,566.29 L454.17,566.75 L454.41,567.20 L454.66,567.65 L454.90,568.10 L455.14,568.55 L455.38,569.00 L455.63,569.45 L455.87,569.90 L456.11,570.35 L456.36,570.80 L456.60,571.24 L456.84,571.69 L457.09,572.14 L457.33,572.58 L457.58,573.02 L457.82,573.47 L458.06,573.91 L458.31,574.35 L458.55,574.79 L458.80,575.23 L459.05,575.67 L459.29,576.11 L459.54,576.55 L459.78,576.99 L460.03,577.42 L460.28,577.86 L460.52,578.30 L460.77,578.73 L461.02,579.17 L461.26,579.60 L461.51,580.03 L461.76,580.46 L462.01,580.89 L462.25,581.33 L462.50,581.76 L462.75,582.18 L463.00,582.61 L463.25,583.04 L463.50,583.47 L463.75,583.89 L464.00,584.32 L464.25,584.75 L464.50,585.17 L464.75,585.59 L465.00,586.02 L465.25,586.44 L465.50,586.86 L465.75,587.28 L466.00,587.70 L466.25,588.12 L466.50,588.54 L466.75,588.96 L467.01,589.38 L467.26,589.79 L467.51,590.21 L467.76,590.63 L468.01,591.04 L468.27,591.46 L468.52,591.87 L468.77,592.28 L469.03,592.70 L469.28,593.11 L469.54,593.52 L469.79,593.93 L470.04,594.34 L470.30,594.75 L470.55,595.16 L470.81,595.56 L471.06,595.97 L471.32,596.38 L471.57,596.78 L471.83,597.19 L472.09,597.59 L472.34,598.00 L472.60,598.40 L472.85,598.80 L473.11,599.21 L473.37,599.61 L473.62,600.01 L473.88,600.41 L474.14,600.81 L474.40,601.21 L474.66,601.60 L474.91,602.00 L475.17,602.40 L475.43,602.79 L475.69,603.19 L475.95,603.58 L476.21,603.98 L476.47,604.37 L476.73,604.77 L476.99,605.16 L477.25,605.55 L477.51,605.94 L477.77,606.33 L478.03,606.72 L478.29,607.11 L478.55,607.50 L478.81,607.89 L479.07,608.28 L479.33,608.66 L479.60,609.05 L479.86,609.43 L480.12,609.82 L480.38,610.20 L480.65,610.59 L480.91,610.97 L481.17,611.35 L481.44,611.73 L481.70,612.12 L481.96,612.50 L482.23,612.88 L482.49,613.26 L482.76,613.64 L483.02,614.01 L483.29,614.39 L483.55,614.77 L483.82,615.14 L484.08,615.52 L484.35,615.90 L484.61,616.27 L484.88,616.64 L485.15,617.02 L485.41,617.39 L485.68,617.76 L485.95,618.14 L486.21,618.51 L486.48,618.88 L486.75,619.25 L487.02,619.62 L487.28,619.98 L487.55,620.35 L487.82,620.72 L488.09,621.09 L488.36,621.45 L488.63,621.82 L488.90,622.18 L489.17,622.55 L489.44,622.91 L489.71,623.28 L489.98,623.64 L490.25,624.00 L490.52,624.36 L490.79,624.72 L491.06,625.09 L491.33,625.45 L491.60,625.80 L491.87,626.16 L492.15,626.52 L492.42,626.88 L492.69,627.24 L492.96,627.59 L493.24,627.95 L493.51,628.30 L493.78,628.66 L494.06,629.01 L494.33,629.37 L494.60,629.72 L494.88,630.07 L495.15,630.42 L495.43,630.78 L495.70,631.13 L495.98,631.48 L496.25,631.83 L496.53,632.18 L496.80,632.53 L497.08,632.87 L497.35,633.22 L497.63,633.57 L497.91,633.91 L498.18,634.26 L498.46,634.61 L498.74,634.95 L499.02,635.29 L499.29,635.64 L499.57,635.98 L499.85,636.32 L500.13,636.67 L500.41,637.01 L500.68,637.35 L500.96,637.69 L501.24,638.03 L501.52,638.37 L501.80,638.71 L502.08,639.04 L502.36,639.38 L502.64,639.72 L502.92,640.06 L503.20,640.39 L503.49,640.73 L503.77,641.06 L504.05,641.40 L504.33,641.73 L504.61,642.06 L504.89,642.40 L505.18,642.73 L505.46,643.06 L505.74,643.39 L506.02,643.72 L506.31,644.05 L506.59,644.38 L506.87,644.71 L507.16,645.04 L507.44,645.37 L507.73,645.70 L508.01,646.02 L508.30,646.35 L508.58,646.68 L508.87,647.00 L509.15,647.33 L509.44,647.65 L509.72,647.97 L510.01,648.30 L510.30,648.62 L510.58,648.94 L510.87,649.27 L511.16,649.59 L511.45,649.91 L511.73,650.23 L512.02,650.55 L512.31,650.87 L512.60,651.19 L512.89,651.50 L513.17,651.82 L513.46,652.14 L513.75,652.46 L514.04,652.77 L514.33,653.09 L514.62,653.40 L514.91,653.72 L515.20,654.03 L515.49,654.35 L515.78,654.66 L516.07,654.97 L516.37,655.28 L516.66,655.60 L516.95,655.91 L517.24,656.22 L517.53,656.53 L517.83,656.84 L518.12,657.15 L518.41,657.45 L518.71,657.76 L519.00,658.07 L519.29,658.38 L519.59,658.68 L519.88,658.99 L520.17,659.30 L520.47,659.60 L520.76,659.91 L521.06,660.21 L521.35,660.52 L521.65,660.82 L521.95,661.12 L522.24,661.42 L522.54,661.73 L522.83,662.03 L523.13,662.33 L523.43,662.63 L523.73,662.93 L524.02,663.23 L524.32,663.53 L524.62,663.83 L524.92,664.12 L525.21,664.42 L525.51,664.72 L525.81,665.01 L526.11,665.31 L526.41,665.61 L526.71,665.90 L527.01,666.20 L527.31,666.49 L527.61,666.78 L527.91,667.08 L528.21,667.37 L528.51,667.66 L528.81,667.96 L529.12,668.25 L529.42,668.54 L529.72,668.83 L530.02,669.12 L530.32,669.41 L530.63,669.70 L530.93,669.99 L531.23,670.27 L531.54,670.56 L531.84,670.85 L532.14,671.14 L532.45,671.42 L532.75,671.71 L533.06,671.99 L533.36,672.28 L533.67,672.56 L533.97,672.85 L534.28,673.13 L534.58,673.41 L534.89,673.70 L535.20,673.98 L535.50,674.26 L535.81,674.54 L536.12,674.82 L536.42,675.10 L536.73,675.38 L537.04,675.66 L537.35,675.94 L537.66,676.22 L537.97,676.50 L538.27,676.78 L538.58,677.05 L538.89,677.33 L539.20,677.61 L539.51,677.88 L539.82,678.16 L540.13,678.43 L540.44,678.71 L540.75,678.98 L541.06,679.26 L541.38,679.53 L541.69,679.80 L542.00,680.08 L542.31,680.35 L542.62,680.62 L542.94,680.89 L543.25,681.16 L543.56,681.43 L543.88,681.70 L544.19,681.97 L544.50,682.24 L544.82,682.51 L545.13,682.78 L545.45,683.05 L545.76,683.31 L546.08,683.58 L546.39,683.85 L546.71,684.11 L547.02,684.38 L547.34,684.64 L547.65,684.91 L547.97,685.17 L548.29,685.44 L548.61,685.70 L548.92,685.96 L549.24,686.23 L549.56,686.49 L549.88,686.75 L550.19,687.01 L550.51,687.27 L550.83,687.53 L551.15,687.79 L551.47,688.05 L551.79,688.31 L552.11,688.57 L552.43,688.83 L552.75,689.09 L553.07,689.34 L553.39,689.60 L553.71,689.86 L554.03,690.12 L554.36,690.37 L554.68,690.63 L555.00,690.88 L555.32,691.14 L555.65,691.39 L555.97,691.65 L556.29,691.90 L556.62,692.15 L556.94,692.41 L557.26,692.66 L557.59,692.91 L557.91,693.16 L558.24,693.41 L558.56,693.66 L558.89,693.91 L559.21,694.16 L559.54,694.41 L559.86,694.66 L560.19,694.91 L560.52,695.16 L560.84,695.41 L561.17,695.65 L561.50,695.90 L561.83,696.15 L562.15,696.40 L562.48,696.64 L562.81,696.89 L563.14,697.13 L563.47,697.38 L563.80,697.62 L564.13,697.87 L564.46,698.11 L564.79,698.35 L565.12,698.60 L565.45,698.84 L565.78,699.08 L566.11,699.32 L566.44,699.56 L566.77,699.80 L567.11,700.04 L567.44,700.28 L567.77,700.52 L568.10,700.76 L568.44,701.00 L568.77,701.24 L569.10,701.48 L569.44,701.72 L569.77,701.95 L570.10,702.19 L570.44,702.43 L570.77,702.66 L571.11,702.90 L571.44,703.14 L571.78,703.37 L572.12,703.61 L572.45,703.84 L572.79,704.08 L573.12,704.31 L573.46,704.54 L573.80,704.78 L574.14,705.01 L574.47,705.24 L574.81,705.47 L575.15,705.70 L575.49,705.93 L575.83,706.17 L576.17,706.40 L576.51,706.63 L576.85,706.86 L577.19,707.08 L577.53,707.31 L577.87,707.54 L578.21,707.77 L578.55,708.00 L578.89,708.23 L579.23,708.45 L579.57,708.68 L579.92,708.91 L580.26,709.13 L580.60,709.36 L580.94,709.58 L581.29,709.81 L581.63,710.03 L581.97,710.26 L582.32,710.48 L582.66,710.70 L583.01,710.93 L583.35,711.15 L583.70,711.37 L584.04,711.59 L584.39,711.82 L584.73,712.04 L585.08,712.26 L585.43,712.48 L585.77,712.70 L586.12,712.92 L586.47,713.14 L586.82,713.36 L587.16,713.58 L587.51,713.80 L587.86,714.01 L588.21,714.23 L588.56,714.45 L588.91,714.67 L589.26,714.88 L589.61,715.10 L589.96,715.32 L590.31,715.53 L590.66,715.75 L591.01,715.96 L591.36,716.18 L591.71,716.39 L592.06,716.60 L592.42,716.82 L592.77,717.03 L593.12,717.24 L593.47,717.46 L593.83,717.67 L594.18,717.88 L594.53,718.09 L594.89,718.30 L595.24,718.52 L595.60,718.73 L595.95,718.94 L596.31,719.15 L596.66,719.36 L597.02,719.57 L597.38,719.77 L597.73,719.98 L598.09,720.19 L598.45,720.40 L598.80,720.61 L599.16,720.81 L599.52,721.02 L599.88,721.23 L600.23,721.43 L600.59,721.64 L600.95,721.85 L601.31,722.05 L601.67,722.26 L602.03,722.46 L602.39,722.67 L602.75,722.87 L603.11,723.07 L603.47,723.28 L603.83,723.48 L604.20,723.68 L604.56,723.88 L604.92,724.09 L605.28,724.29 L605.64,724.49 L606.01,724.69 L606.37,724.89 L606.73,725.09 L607.10,725.29 L607.46,725.49 L607.83,725.69 L608.19,725.89 L608.56,726.09 L608.92,726.29 L609.29,726.49 L609.65,726.68 L610.02,726.88 L610.39,727.08 L610.75,727.28 L611.12,727.47 L611.49,727.67 L611.85,727.86 L612.22,728.06 L612.59,728.26 L612.96,728.45 L613.33,728.65 L613.70,728.84 L614.07,729.03 L614.44,729.23 L614.81,729.42 L615.18,729.61 L615.55,729.81 L615.92,730.00 L616.29,730.19 L616.66,730.38 L617.03,730.58 L617.41,730.77 L617.78,730.96 L618.15,731.15 L618.52,731.34 L618.90,731.53 L619.27,731.72 L619.64,731.91 L620.02,732.10 L620.39,732.29 L620.77,732.48 L621.14,732.66 L621.52,732.85 L621.89,733.04 L622.27,733.23 L622.65,733.41 L623.02,733.60 L623.40,733.79 L623.78,733.97 L624.15,734.16 L624.53,734.35 L624.91,734.53 L625.29,734.72 L625.67,734.90 L626.05,735.09 L626.43,735.27 L626.80,735.45 L627.18,735.64 L627.56,735.82 L627.95,736.00 L628.33,736.19 L628.71,736.37 L629.09,736.55 L629.47,736.73 L629.85,736.91 L630.24,737.10 L630.62,737.28 L631.00,737.46 L631.38,737.64 L631.77,737.82 L632.15,738.00 L632.54,738.18 L632.92,738.36 L633.30,738.53 L633.69,738.71 L634.08,738.89 L634.46,739.07 L634.85,739.25 L635.23,739.43 L635.62,739.60 L636.01,739.78 L636.39,739.96 L636.78,740.13 L637.17,740.31 L637.56,740.48 L637.95,740.66 L638.34,740.83 L638.72,741.01 L639.11,741.18 L639.50,741.36 L639.89,741.53 L640.28,741.71 L640.68,741.88 L641.07,742.05 L641.46,742.23 L641.85,742.40 L642.24,742.57 L642.63,742.74 L643.03,742.92 L643.42,743.09 L643.81,743.26 L644.21,743.43 L644.60,743.60 L644.99,743.77 L645.39,743.94 L645.78,744.11 L646.18,744.28 L646.57,744.45 L646.97,744.62 L647.37,744.79 L647.76,744.96 L648.16,745.13 L648.56,745.29 L648.95,745.46 L649.35,745.63 L649.75,745.80 L650.15,745.96 L650.54,746.13 L650.94,746.30 L651.34,746.46 L651.74,746.63 L652.14,746.80 L652.54,746.96 L652.94,747.13 L653.34,747.29 L653.75,747.46 L654.15,747.62 L654.55,747.78 L654.95,747.95 L655.35,748.11 L655.76,748.27 L656.16,748.44 L656.56,748.60 L656.97,748.76 L657.37,748.93 L657.77,749.09 L658.18,749.25 L658.58,749.41 L658.99,749.57 L659.40,749.73 L659.80,749.89 L660.21,750.05 L660.61,750.21 L661.02,750.37 L661.43,750.53 L661.84,750.69 L662.24,750.85 L662.65,751.01 L663.06,751.17 L663.47,751.33 L663.88,751.49 L664.29,751.65 L664.70,751.80 L665.11,751.96 L665.52,752.12 L665.93,752.27 L666.34,752.43 L666.75,752.59 L667.16,752.74 L667.58,752.90 L667.99,753.06 L668.40,753.21 L668.82,753.37 L669.23,753.52 L669.64,753.68 L670.06,753.83 L670.47,753.98 L670.89,754.14 L671.30,754.29 L671.72,754.45 L672.13,754.60 L672.55,754.75 L672.97,754.90 L673.38,755.06 L673.80,755.21 L674.22,755.36 L674.64,755.51 L675.05,755.66 L675.47,755.82 L675.89,755.97 L676.31,756.12 L676.73,756.27 L677.15,756.42 L677.57,756.57 L677.99,756.72 L678.41,756.87 L678.83,757.02 L679.25,757.17 L679.68,757.31 L680.10,757.46 L680.52,757.61 L680.94,757.76 L681.37,757.91 L681.79,758.06 L682.21,758.20 L682.64,758.35 L683.06,758.50 L683.49,758.64 L683.91,758.79 L684.34,758.94 L684.76,759.08 L685.19,759.23 L685.62,759.37 L686.04,759.52 L686.47,759.66 L686.90,759.81 L687.33,759.95 L687.76,760.10 L688.18,760.24 L688.61,760.39 L689.04,760.53 L689.47,760.67 L689.90,760.82 L690.33,760.96 L690.76,761.10 L691.19,761.25 L691.63,761.39 L692.06,761.53 L692.49,761.67 L692.92,761.81 L693.36,761.95 L693.79,762.10 L694.22,762.24 L694.66,762.38 L695.09,762.52 L695.52,762.66 L695.96,762.80 L696.39,762.94 L696.83,763.08 L697.27,763.22 L697.70,763.36 L698.14,763.50 L698.58,763.63 L699.01,763.77 L699.45,763.91 L699.89,764.05 L700.33,764.19 L700.77,764.32 L701.21,764.46 L701.65,764.60 L702.09,764.74 L702.53,764.87 L702.97,765.01 L703.41,765.15 L703.85,765.28 L704.29,765.42 L704.73,765.55 L705.17,765.69 L705.62,765.82 L706.06,765.96 L706.50,766.09 L706.95,766.23 L707.39,766.36 L707.83,766.50 L708.28,766.63 L708.72,766.77 L709.17,766.90 L709.62,767.03 L710.06,767.17 L710.51,767.30 L710.96,767.43 L711.40,767.56 L711.85,767.70 L712.30,767.83 L712.75,767.96 L713.20,768.09 L713.64,768.22 L714.09,768.35 L714.54,768.48 L714.99,768.62 L715.44,768.75 L715.89,768.88 L716.35,769.01 L716.80,769.14 L717.25,769.27 L717.70,769.40 L718.15,769.52 L718.61,769.65 L719.06,769.78 L719.51,769.91 L719.97,770.04 L720.42,770.17 L720.88,770.30 L721.33,770.42 L721.79,770.55 L722.24,770.68 L722.70,770.81 L723.16,770.93 L723.61,771.06 L724.07,771.19 L724.53,771.31 L724.99,771.44 L725.45,771.57 L725.91,771.69 L726.36,771.82 L726.82,771.94 L727.28,772.07 L727.74,772.19 L728.20,772.32 L728.67,772.44 L729.13,772.57 L729.59,772.69 L730.05,772.82 L730.51,772.94 L730.98,773.06 L731.44,773.19 L731.90,773.31 L732.37,773.43 L732.83,773.56 L733.30,773.68 L733.76,773.80 L734.23,773.92 L734.69,774.05 L735.16,774.17 L735.63,774.29 L736.09,774.41 L736.56,774.53 L737.03,774.65 L737.50,774.77 L737.96,774.89 L738.43,775.01 L738.90,775.14 L739.37,775.26 L739.84,775.38 L740.31,775.49 L740.78,775.61 L741.25,775.73 L741.73,775.85 L742.20,775.97 L742.67,776.09 L743.14,776.21 L743.62,776.33 L744.09,776.45 L744.56,776.56 L745.04,776.68 L745.51,776.80 L745.99,776.92 L746.46,777.03 L746.94,777.15 L747.41,777.27 L747.89,777.39 L748.37,777.50 L748.84,777.62 L749.32,777.73 L749.80,777.85 L750.28,777.97 L750.76,778.08 L751.24,778.20 L751.72,778.31 L752.19,778.43 L752.68,778.54 L753.16,778.66 L753.64,778.77 L754.12,778.89 L754.60,779.00 L1055.90,779.00" fill="none" stroke="#77AC30" stroke-width="4.0" stroke-dasharray="4 4" stroke-linejoin="round"/><rect x="799.5" y="88.5" width="234" height="160" fill="#fff" stroke="#262626" stroke-width="1"/><rect x="807" y="105.45" width="5" height="4" fill="#0072BD"/><rect x="816" y="105.45" width="4" height="4" fill="#0072BD"/><rect x="824" y="105.45" width="4" height="4" fill="#0072BD"/><rect x="832" y="105.45" width="4" height="4" fill="#0072BD"/><rect x="843" y="105.45" width="4" height="4" fill="#0072BD"/><rect x="851" y="105.45" width="4" height="4" fill="#0072BD"/><rect x="859" y="105.45" width="4" height="4" fill="#0072BD"/><rect x="867" y="105.45" width="4" height="4" fill="#0072BD"/><rect x="875" y="105.45" width="4" height="4" fill="#0072BD"/><rect x="883" y="105.45" width="4" height="4" fill="#0072BD"/><text transform="translate(898.30,112.90) scale(1.000,1)" style="font-family:'Liberation Serif','Times New Roman',serif;font-size:23.40px;font-style:italic" fill="#000">p</text><text transform="translate(909.70,116.70) scale(1.000,1)" style="font-family:'Liberation Serif','Times New Roman',serif;font-size:16.40px" fill="#000">1</text><text transform="translate(919.53,116.02) scale(1.407,1)" style="font-family:'Liberation Serif','Times New Roman',serif;font-size:25.20px" fill="#000">=</text><text transform="translate(939.50,112.90) scale(1.000,1)" style="font-family:'Liberation Serif','Times New Roman',serif;font-size:23.40px;font-style:italic" fill="#000">p</text><text transform="translate(952.40,116.70) scale(1.000,1)" style="font-family:'Liberation Serif','Times New Roman',serif;font-size:16.40px" fill="#000">2</text><text transform="translate(961.53,116.02) scale(1.407,1)" style="font-family:'Liberation Serif','Times New Roman',serif;font-size:25.20px" fill="#000">=</text><text transform="translate(980.90,114.05) scale(0.962,1)" style="font-family:'Liberation Serif','Times New Roman',serif;font-size:26.60px" fill="#000">0.50</text><rect x="807" y="136.20" width="17" height="4" fill="#D95319"/><rect x="840" y="136.20" width="11" height="4" fill="#D95319"/><rect x="867" y="136.20" width="16" height="4" fill="#D95319"/><text transform="translate(898.30,143.90) scale(1.000,1)" style="font-family:'Liberation Serif','Times New Roman',serif;font-size:23.40px;font-style:italic" fill="#000">p</text><text transform="translate(909.70,147.70) scale(1.000,1)" style="font-family:'Liberation Serif','Times New Roman',serif;font-size:16.40px" fill="#000">1</text><text transform="translate(919.53,147.02) scale(1.407,1)" style="font-family:'Liberation Serif','Times New Roman',serif;font-size:25.20px" fill="#000">=</text><text transform="translate(939.50,143.90) scale(1.000,1)" style="font-family:'Liberation Serif','Times New Roman',serif;font-size:23.40px;font-style:italic" fill="#000">p</text><text transform="translate(952.40,147.70) scale(1.000,1)" style="font-family:'Liberation Serif','Times New Roman',serif;font-size:16.40px" fill="#000">2</text><text transform="translate(961.53,147.02) scale(1.407,1)" style="font-family:'Liberation Serif','Times New Roman',serif;font-size:25.20px" fill="#000">=</text><text transform="translate(980.90,145.05) scale(0.962,1)" style="font-family:'Liberation Serif','Times New Roman',serif;font-size:26.60px" fill="#000">0.75</text><rect x="807" y="166.95" width="83.5" height="4" fill="#EDB120"/><text transform="translate(898.30,174.90) scale(1.000,1)" style="font-family:'Liberation Serif','Times New Roman',serif;font-size:23.40px;font-style:italic" fill="#000">p</text><text transform="translate(909.70,178.70) scale(1.000,1)" style="font-family:'Liberation Serif','Times New Roman',serif;font-size:16.40px" fill="#000">1</text><text transform="translate(919.53,178.02) scale(1.407,1)" style="font-family:'Liberation Serif','Times New Roman',serif;font-size:25.20px" fill="#000">=</text><text transform="translate(939.50,174.90) scale(1.000,1)" style="font-family:'Liberation Serif','Times New Roman',serif;font-size:23.40px;font-style:italic" fill="#000">p</text><text transform="translate(952.40,178.70) scale(1.000,1)" style="font-family:'Liberation Serif','Times New Roman',serif;font-size:16.40px" fill="#000">2</text><text transform="translate(961.53,178.02) scale(1.407,1)" style="font-family:'Liberation Serif','Times New Roman',serif;font-size:25.20px" fill="#000">=</text><text transform="translate(980.90,176.05) scale(0.962,1)" style="font-family:'Liberation Serif','Times New Roman',serif;font-size:26.60px" fill="#000">1.00</text><rect x="807" y="197.70" width="17" height="4" fill="#7E2F8E"/><rect x="840" y="197.70" width="11" height="4" fill="#7E2F8E"/><rect x="867" y="197.70" width="16" height="4" fill="#7E2F8E"/><text transform="translate(898.30,205.90) scale(1.000,1)" style="font-family:'Liberation Serif','Times New Roman',serif;font-size:23.40px;font-style:italic" fill="#000">p</text><text transform="translate(909.70,209.70) scale(1.000,1)" style="font-family:'Liberation Serif','Times New Roman',serif;font-size:16.40px" fill="#000">1</text><text transform="translate(919.53,209.02) scale(1.407,1)" style="font-family:'Liberation Serif','Times New Roman',serif;font-size:25.20px" fill="#000">=</text><text transform="translate(939.50,205.90) scale(1.000,1)" style="font-family:'Liberation Serif','Times New Roman',serif;font-size:23.40px;font-style:italic" fill="#000">p</text><text transform="translate(952.40,209.70) scale(1.000,1)" style="font-family:'Liberation Serif','Times New Roman',serif;font-size:16.40px" fill="#000">2</text><text transform="translate(961.53,209.02) scale(1.407,1)" style="font-family:'Liberation Serif','Times New Roman',serif;font-size:25.20px" fill="#000">=</text><text transform="translate(980.90,207.05) scale(0.962,1)" style="font-family:'Liberation Serif','Times New Roman',serif;font-size:26.60px" fill="#000">1.50</text><rect x="807" y="228.45" width="5" height="4" fill="#77AC30"/><rect x="816" y="228.45" width="4" height="4" fill="#77AC30"/><rect x="824" y="228.45" width="4" height="4" fill="#77AC30"/><rect x="832" y="228.45" width="4" height="4" fill="#77AC30"/><rect x="843" y="228.45" width="4" height="4" fill="#77AC30"/><rect x="851" y="228.45" width="4" height="4" fill="#77AC30"/><rect x="859" y="228.45" width="4" height="4" fill="#77AC30"/><rect x="867" y="228.45" width="4" height="4" fill="#77AC30"/><rect x="875" y="228.45" width="4" height="4" fill="#77AC30"/><rect x="883" y="228.45" width="4" height="4" fill="#77AC30"/><text transform="translate(898.30,236.90) scale(1.000,1)" style="font-family:'Liberation Serif','Times New Roman',serif;font-size:23.40px;font-style:italic" fill="#000">p</text><text transform="translate(909.70,240.70) scale(1.000,1)" style="font-family:'Liberation Serif','Times New Roman',serif;font-size:16.40px" fill="#000">1</text><text transform="translate(919.53,240.02) scale(1.407,1)" style="font-family:'Liberation Serif','Times New Roman',serif;font-size:25.20px" fill="#000">=</text><text transform="translate(939.50,236.90) scale(1.000,1)" style="font-family:'Liberation Serif','Times New Roman',serif;font-size:23.40px;font-style:italic" fill="#000">p</text><text transform="translate(952.40,240.70) scale(1.000,1)" style="font-family:'Liberation Serif','Times New Roman',serif;font-size:16.40px" fill="#000">2</text><text transform="translate(961.53,240.02) scale(1.407,1)" style="font-family:'Liberation Serif','Times New Roman',serif;font-size:25.20px" fill="#000">=</text><text transform="translate(980.90,238.05) scale(0.962,1)" style="font-family:'Liberation Serif','Times New Roman',serif;font-size:26.60px" fill="#000">2.00</text><text transform="translate(140.80,789.90) scale(1,1.05)" text-anchor="end" style="font-family:'Liberation Sans',Arial,sans-serif;font-size:27.8px" fill="#262626">0</text><text transform="translate(140.80,718.70) scale(1,1.05)" text-anchor="end" style="font-family:'Liberation Sans',Arial,sans-serif;font-size:27.8px" fill="#262626" clip-path="url(#c0)">1</text><text transform="translate(140.80,647.00) scale(1,1.05)" text-anchor="end" style="font-family:'Liberation Sans',Arial,sans-serif;font-size:27.8px" fill="#262626">2</text><text transform="translate(140.80,575.90) scale(1,1.05)" text-anchor="end" style="font-family:'Liberation Sans',Arial,sans-serif;font-size:27.8px" fill="#262626">3</text><text transform="translate(140.80,504.60) scale(1,1.05)" text-anchor="end" style="font-family:'Liberation Sans',Arial,sans-serif;font-size:27.8px" fill="#262626">4</text><text transform="translate(140.80,432.90) scale(1,1.05)" text-anchor="end" style="font-family:'Liberation Sans',Arial,sans-serif;font-size:27.8px" fill="#262626">5</text><text transform="translate(140.80,361.70) scale(1,1.05)" text-anchor="end" style="font-family:'Liberation Sans',Arial,sans-serif;font-size:27.8px" fill="#262626">6</text><text transform="translate(140.80,290.70) scale(1,1.05)" text-anchor="end" style="font-family:'Liberation Sans',Arial,sans-serif;font-size:27.8px" fill="#262626">7</text><text transform="translate(140.80,219.50) scale(1,1.05)" text-anchor="end" style="font-family:'Liberation Sans',Arial,sans-serif;font-size:27.8px" fill="#262626">8</text><text transform="translate(140.80,147.50) scale(1,1.05)" text-anchor="end" style="font-family:'Liberation Sans',Arial,sans-serif;font-size:27.8px" fill="#262626">9</text><text transform="translate(140.80,76.70) scale(1,1.05)" text-anchor="end" style="font-family:'Liberation Sans',Arial,sans-serif;font-size:27.8px" fill="#262626" clip-path="url(#c1)">10</text><text transform="translate(151.65,818.20) scale(1,1.05)" text-anchor="middle" style="font-family:'Liberation Sans',Arial,sans-serif;font-size:27.8px" fill="#262626">0</text><text transform="translate(452.85,818.20) scale(1,1.05)" text-anchor="middle" style="font-family:'Liberation Sans',Arial,sans-serif;font-size:27.8px" fill="#262626">0.5</text><text transform="translate(755.20,818.20) scale(1,1.05)" text-anchor="middle" style="font-family:'Liberation Sans',Arial,sans-serif;font-size:27.8px" fill="#262626" clip-path="url(#c2)">1</text><text transform="translate(1056.55,818.20) scale(1,1.05)" text-anchor="middle" style="font-family:'Liberation Sans',Arial,sans-serif;font-size:27.8px" fill="#262626" clip-path="url(#c3)">1.5</text><text x="603.9" y="854.1" text-anchor="middle" textLength="145.2" lengthAdjust="spacingAndGlyphs" style="font-family:'Liberation Serif','Times New Roman',serif;font-size:30.6px" fill="#262626">Moneyness</text><text transform="translate(90.9,420.35) rotate(-90)" text-anchor="middle" textLength="85" lengthAdjust="spacingAndGlyphs" style="font-family:'Liberation Serif','Times New Roman',serif;font-size:30.6px" fill="#262626">Payoff</text></svg></body></html>
